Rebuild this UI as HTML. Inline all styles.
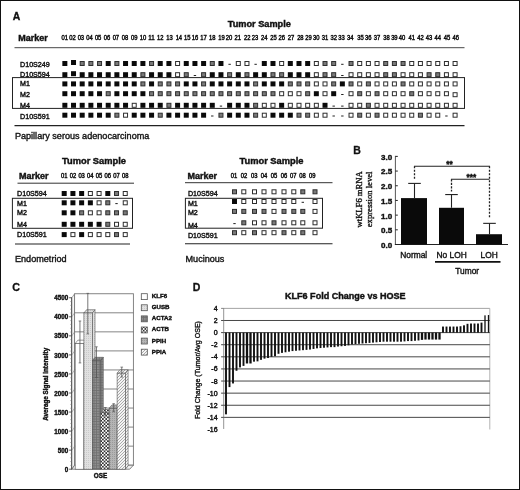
<!DOCTYPE html>
<html lang="en"><head><meta charset="utf-8"><title>KLF6 LOH and expression figure</title>
<style>html,body{margin:0;padding:0;background:#fff;}body{width:520px;height:490px;overflow:hidden;}svg{display:block;font-family:'Liberation Sans', sans-serif;}</style></head><body>
<svg width="520" height="490" viewBox="0 0 520 490">
<defs>
<pattern id="pDots" width="2" height="2" patternUnits="userSpaceOnUse"><rect width="2" height="2" fill="#e0e0e0"/><rect width="1" height="1" fill="#cacaca"/></pattern>
<pattern id="pGrid" width="2.6" height="2.6" patternUnits="userSpaceOnUse"><rect width="2.6" height="2.6" fill="#8e8e8e"/><path d="M0 0.4H2.6M0.4 0V2.6" stroke="#6c6c6c" stroke-width="0.8"/></pattern>
<pattern id="pCheck" width="3.4" height="3.4" patternUnits="userSpaceOnUse"><rect width="3.4" height="3.4" fill="#fff"/><rect width="1.7" height="1.7" fill="#333"/><rect x="1.7" y="1.7" width="1.7" height="1.7" fill="#333"/></pattern>
<pattern id="pMed" width="2" height="2" patternUnits="userSpaceOnUse"><rect width="2" height="2" fill="#b4b4b4"/><rect width="1" height="1" fill="#9a9a9a"/></pattern>
<pattern id="pDiag" width="3" height="3" patternUnits="userSpaceOnUse"><rect width="3" height="3" fill="#f4f4f4"/><path d="M-1 4L4 -1M-1 1L1 -1M2 4L4 2" stroke="#8a8a8a" stroke-width="0.7"/></pattern>
</defs>
<rect x="0" y="0" width="520" height="490" fill="#ffffff"/>
<g id="panelA">
<text x="12.7" y="19.8" font-size="10.4" font-weight="bold" text-anchor="start" fill="#111" stroke="#111" stroke-width="0.35">A</text>
<text x="259.3" y="27.0" font-size="9.2" font-weight="bold" text-anchor="middle" fill="#111" stroke="#111" stroke-width="0.42">Tumor Sample</text>
<text x="18.3" y="41.3" font-size="9" font-weight="bold" text-anchor="start" fill="#111" stroke="#111" stroke-width="0.42">Marker</text>
<line x1="14.5" y1="47.7" x2="464.5" y2="47.7" stroke="#333" stroke-width="0.9"/>
<line x1="14.5" y1="125.6" x2="464.5" y2="125.6" stroke="#222" stroke-width="1.1"/>
<text x="64.85" y="39.6" font-size="6.6" text-anchor="middle" fill="#111" stroke="#111" stroke-width="0.45" textLength="6.5" lengthAdjust="spacingAndGlyphs">01</text>
<text x="72.52" y="39.6" font-size="6.6" text-anchor="middle" fill="#111" stroke="#111" stroke-width="0.45" textLength="6.5" lengthAdjust="spacingAndGlyphs">02</text>
<text x="80.89" y="39.6" font-size="6.6" text-anchor="middle" fill="#111" stroke="#111" stroke-width="0.45" textLength="6.5" lengthAdjust="spacingAndGlyphs">03</text>
<text x="89.47" y="39.6" font-size="6.6" text-anchor="middle" fill="#111" stroke="#111" stroke-width="0.45" textLength="6.5" lengthAdjust="spacingAndGlyphs">04</text>
<text x="98.14" y="39.6" font-size="6.6" text-anchor="middle" fill="#111" stroke="#111" stroke-width="0.45" textLength="6.5" lengthAdjust="spacingAndGlyphs">05</text>
<text x="107.01" y="39.6" font-size="6.6" text-anchor="middle" fill="#111" stroke="#111" stroke-width="0.45" textLength="6.5" lengthAdjust="spacingAndGlyphs">06</text>
<text x="115.88" y="39.6" font-size="6.6" text-anchor="middle" fill="#111" stroke="#111" stroke-width="0.45" textLength="6.5" lengthAdjust="spacingAndGlyphs">07</text>
<text x="124.95" y="39.6" font-size="6.6" text-anchor="middle" fill="#111" stroke="#111" stroke-width="0.45" textLength="6.5" lengthAdjust="spacingAndGlyphs">08</text>
<text x="134.23" y="39.6" font-size="6.6" text-anchor="middle" fill="#111" stroke="#111" stroke-width="0.45" textLength="6.5" lengthAdjust="spacingAndGlyphs">09</text>
<text x="142.90" y="39.6" font-size="6.6" text-anchor="middle" fill="#111" stroke="#111" stroke-width="0.45" textLength="6.5" lengthAdjust="spacingAndGlyphs">10</text>
<text x="151.57" y="39.6" font-size="6.6" text-anchor="middle" fill="#111" stroke="#111" stroke-width="0.45" textLength="6.5" lengthAdjust="spacingAndGlyphs">11</text>
<text x="160.24" y="39.6" font-size="6.6" text-anchor="middle" fill="#111" stroke="#111" stroke-width="0.45" textLength="6.5" lengthAdjust="spacingAndGlyphs">12</text>
<text x="169.51" y="39.6" font-size="6.6" text-anchor="middle" fill="#111" stroke="#111" stroke-width="0.45" textLength="6.5" lengthAdjust="spacingAndGlyphs">13</text>
<text x="178.89" y="39.6" font-size="6.6" text-anchor="middle" fill="#111" stroke="#111" stroke-width="0.45" textLength="6.5" lengthAdjust="spacingAndGlyphs">14</text>
<text x="187.16" y="39.6" font-size="6.6" text-anchor="middle" fill="#111" stroke="#111" stroke-width="0.45" textLength="6.5" lengthAdjust="spacingAndGlyphs">15</text>
<text x="194.93" y="39.6" font-size="6.6" text-anchor="middle" fill="#111" stroke="#111" stroke-width="0.45" textLength="6.5" lengthAdjust="spacingAndGlyphs">16</text>
<text x="203.60" y="39.6" font-size="6.6" text-anchor="middle" fill="#111" stroke="#111" stroke-width="0.45" textLength="6.5" lengthAdjust="spacingAndGlyphs">17</text>
<text x="212.27" y="39.6" font-size="6.6" text-anchor="middle" fill="#111" stroke="#111" stroke-width="0.45" textLength="6.5" lengthAdjust="spacingAndGlyphs">18</text>
<text x="221.55" y="39.6" font-size="6.6" text-anchor="middle" fill="#111" stroke="#111" stroke-width="0.45" textLength="6.5" lengthAdjust="spacingAndGlyphs">19</text>
<text x="229.02" y="39.6" font-size="6.6" text-anchor="middle" fill="#111" stroke="#111" stroke-width="0.45" textLength="6.5" lengthAdjust="spacingAndGlyphs">20</text>
<text x="237.79" y="39.6" font-size="6.6" text-anchor="middle" fill="#111" stroke="#111" stroke-width="0.45" textLength="6.5" lengthAdjust="spacingAndGlyphs">21</text>
<text x="247.16" y="39.6" font-size="6.6" text-anchor="middle" fill="#111" stroke="#111" stroke-width="0.45" textLength="6.5" lengthAdjust="spacingAndGlyphs">22</text>
<text x="255.03" y="39.6" font-size="6.6" text-anchor="middle" fill="#111" stroke="#111" stroke-width="0.45" textLength="6.5" lengthAdjust="spacingAndGlyphs">23</text>
<text x="264.31" y="39.6" font-size="6.6" text-anchor="middle" fill="#111" stroke="#111" stroke-width="0.45" textLength="6.5" lengthAdjust="spacingAndGlyphs">24</text>
<text x="273.48" y="39.6" font-size="6.6" text-anchor="middle" fill="#111" stroke="#111" stroke-width="0.45" textLength="6.5" lengthAdjust="spacingAndGlyphs">25</text>
<text x="281.65" y="39.6" font-size="6.6" text-anchor="middle" fill="#111" stroke="#111" stroke-width="0.45" textLength="6.5" lengthAdjust="spacingAndGlyphs">26</text>
<text x="291.02" y="39.6" font-size="6.6" text-anchor="middle" fill="#111" stroke="#111" stroke-width="0.45" textLength="6.5" lengthAdjust="spacingAndGlyphs">27</text>
<text x="300.39" y="39.6" font-size="6.6" text-anchor="middle" fill="#111" stroke="#111" stroke-width="0.45" textLength="6.5" lengthAdjust="spacingAndGlyphs">28</text>
<text x="308.47" y="39.6" font-size="6.6" text-anchor="middle" fill="#111" stroke="#111" stroke-width="0.45" textLength="6.5" lengthAdjust="spacingAndGlyphs">29</text>
<text x="316.34" y="39.6" font-size="6.6" text-anchor="middle" fill="#111" stroke="#111" stroke-width="0.45" textLength="6.5" lengthAdjust="spacingAndGlyphs">30</text>
<text x="325.01" y="39.6" font-size="6.6" text-anchor="middle" fill="#111" stroke="#111" stroke-width="0.45" textLength="6.5" lengthAdjust="spacingAndGlyphs">31</text>
<text x="333.68" y="39.6" font-size="6.6" text-anchor="middle" fill="#111" stroke="#111" stroke-width="0.45" textLength="6.5" lengthAdjust="spacingAndGlyphs">32</text>
<text x="341.45" y="39.6" font-size="6.6" text-anchor="middle" fill="#111" stroke="#111" stroke-width="0.45" textLength="6.5" lengthAdjust="spacingAndGlyphs">33</text>
<text x="350.23" y="39.6" font-size="6.6" text-anchor="middle" fill="#111" stroke="#111" stroke-width="0.45" textLength="6.5" lengthAdjust="spacingAndGlyphs">34</text>
<text x="360.40" y="39.6" font-size="6.6" text-anchor="middle" fill="#111" stroke="#111" stroke-width="0.45" textLength="6.5" lengthAdjust="spacingAndGlyphs">35</text>
<text x="368.37" y="39.6" font-size="6.6" text-anchor="middle" fill="#111" stroke="#111" stroke-width="0.45" textLength="6.5" lengthAdjust="spacingAndGlyphs">36</text>
<text x="377.04" y="39.6" font-size="6.6" text-anchor="middle" fill="#111" stroke="#111" stroke-width="0.45" textLength="6.5" lengthAdjust="spacingAndGlyphs">37</text>
<text x="386.51" y="39.6" font-size="6.6" text-anchor="middle" fill="#111" stroke="#111" stroke-width="0.45" textLength="6.5" lengthAdjust="spacingAndGlyphs">38</text>
<text x="394.39" y="39.6" font-size="6.6" text-anchor="middle" fill="#111" stroke="#111" stroke-width="0.45" textLength="6.5" lengthAdjust="spacingAndGlyphs">39</text>
<text x="402.06" y="39.6" font-size="6.6" text-anchor="middle" fill="#111" stroke="#111" stroke-width="0.45" textLength="6.5" lengthAdjust="spacingAndGlyphs">40</text>
<text x="411.73" y="39.6" font-size="6.6" text-anchor="middle" fill="#111" stroke="#111" stroke-width="0.45" textLength="6.5" lengthAdjust="spacingAndGlyphs">41</text>
<text x="420.40" y="39.6" font-size="6.6" text-anchor="middle" fill="#111" stroke="#111" stroke-width="0.45" textLength="6.5" lengthAdjust="spacingAndGlyphs">42</text>
<text x="429.07" y="39.6" font-size="6.6" text-anchor="middle" fill="#111" stroke="#111" stroke-width="0.45" textLength="6.5" lengthAdjust="spacingAndGlyphs">43</text>
<text x="437.75" y="39.6" font-size="6.6" text-anchor="middle" fill="#111" stroke="#111" stroke-width="0.45" textLength="6.5" lengthAdjust="spacingAndGlyphs">44</text>
<text x="447.02" y="39.6" font-size="6.6" text-anchor="middle" fill="#111" stroke="#111" stroke-width="0.45" textLength="6.5" lengthAdjust="spacingAndGlyphs">45</text>
<text x="455.69" y="39.6" font-size="6.6" text-anchor="middle" fill="#111" stroke="#111" stroke-width="0.45" textLength="6.5" lengthAdjust="spacingAndGlyphs">46</text>
<text x="20.0" y="66.7" font-size="7.15" text-anchor="start" fill="#111" stroke="#111" stroke-width="0.4">D10S249</text>
<rect x="62.35" y="61.00" width="5.00" height="5.00" fill="#0a0a0a" stroke="none" stroke-width="1"/>
<rect x="71.02" y="60.00" width="5.00" height="5.00" fill="#0a0a0a" stroke="none" stroke-width="1"/>
<rect x="80.19" y="61.50" width="4.00" height="4.00" fill="#7a7a7a" stroke="#2e2e2e" stroke-width="1"/>
<rect x="88.87" y="61.50" width="4.00" height="4.00" fill="#7a7a7a" stroke="#2e2e2e" stroke-width="1"/>
<rect x="97.54" y="61.50" width="4.00" height="4.00" fill="#7a7a7a" stroke="#2e2e2e" stroke-width="1"/>
<rect x="105.71" y="61.00" width="5.00" height="5.00" fill="#0a0a0a" stroke="none" stroke-width="1"/>
<rect x="114.88" y="61.50" width="4.00" height="4.00" fill="#7a7a7a" stroke="#2e2e2e" stroke-width="1"/>
<rect x="123.05" y="61.00" width="5.00" height="5.00" fill="#0a0a0a" stroke="none" stroke-width="1"/>
<rect x="131.73" y="61.00" width="5.00" height="5.00" fill="#0a0a0a" stroke="none" stroke-width="1"/>
<rect x="140.40" y="61.00" width="5.00" height="5.00" fill="#0a0a0a" stroke="none" stroke-width="1"/>
<rect x="149.57" y="61.50" width="4.00" height="4.00" fill="#7a7a7a" stroke="#2e2e2e" stroke-width="1"/>
<rect x="157.74" y="61.00" width="5.00" height="5.00" fill="#0a0a0a" stroke="none" stroke-width="1"/>
<rect x="166.41" y="61.00" width="5.00" height="5.00" fill="#0a0a0a" stroke="none" stroke-width="1"/>
<rect x="175.59" y="61.50" width="4.00" height="4.00" fill="#ffffff" stroke="#2e2e2e" stroke-width="1"/>
<rect x="183.76" y="61.00" width="5.00" height="5.00" fill="#0a0a0a" stroke="none" stroke-width="1"/>
<rect x="192.43" y="61.00" width="5.00" height="5.00" fill="#0a0a0a" stroke="none" stroke-width="1"/>
<rect x="201.10" y="61.00" width="5.00" height="5.00" fill="#0a0a0a" stroke="none" stroke-width="1"/>
<rect x="210.27" y="61.50" width="4.00" height="4.00" fill="#7a7a7a" stroke="#2e2e2e" stroke-width="1"/>
<rect x="218.45" y="61.00" width="5.00" height="5.00" fill="#0a0a0a" stroke="none" stroke-width="1"/>
<rect x="228.42" y="63.80" width="2.40" height="1.00" fill="#222" stroke="none" stroke-width="1"/>
<rect x="236.29" y="61.50" width="4.00" height="4.00" fill="#ffffff" stroke="#2e2e2e" stroke-width="1"/>
<rect x="244.96" y="61.50" width="4.00" height="4.00" fill="#ffffff" stroke="#2e2e2e" stroke-width="1"/>
<rect x="254.43" y="63.80" width="2.40" height="1.00" fill="#222" stroke="none" stroke-width="1"/>
<rect x="261.81" y="61.00" width="5.00" height="5.00" fill="#0a0a0a" stroke="none" stroke-width="1"/>
<rect x="270.48" y="61.00" width="5.00" height="5.00" fill="#0a0a0a" stroke="none" stroke-width="1"/>
<rect x="279.65" y="61.50" width="4.00" height="4.00" fill="#ffffff" stroke="#2e2e2e" stroke-width="1"/>
<rect x="287.82" y="61.00" width="5.00" height="5.00" fill="#0a0a0a" stroke="none" stroke-width="1"/>
<rect x="296.49" y="61.00" width="5.00" height="5.00" fill="#0a0a0a" stroke="none" stroke-width="1"/>
<rect x="305.17" y="61.00" width="5.00" height="5.00" fill="#0a0a0a" stroke="none" stroke-width="1"/>
<rect x="314.34" y="61.50" width="4.00" height="4.00" fill="#ffffff" stroke="#2e2e2e" stroke-width="1"/>
<rect x="323.01" y="61.50" width="4.00" height="4.00" fill="#7a7a7a" stroke="#2e2e2e" stroke-width="1"/>
<rect x="331.68" y="61.50" width="4.00" height="4.00" fill="#7a7a7a" stroke="#2e2e2e" stroke-width="1"/>
<rect x="341.15" y="63.80" width="2.40" height="1.00" fill="#222" stroke="none" stroke-width="1"/>
<rect x="349.03" y="61.50" width="4.00" height="4.00" fill="#7a7a7a" stroke="#2e2e2e" stroke-width="1"/>
<rect x="357.70" y="61.50" width="4.00" height="4.00" fill="#ffffff" stroke="#2e2e2e" stroke-width="1"/>
<rect x="366.37" y="61.50" width="4.00" height="4.00" fill="#ffffff" stroke="#2e2e2e" stroke-width="1"/>
<rect x="375.04" y="61.50" width="4.00" height="4.00" fill="#ffffff" stroke="#2e2e2e" stroke-width="1"/>
<rect x="383.71" y="61.50" width="4.00" height="4.00" fill="#7a7a7a" stroke="#2e2e2e" stroke-width="1"/>
<rect x="392.39" y="61.50" width="4.00" height="4.00" fill="#7a7a7a" stroke="#2e2e2e" stroke-width="1"/>
<rect x="401.06" y="61.50" width="4.00" height="4.00" fill="#7a7a7a" stroke="#2e2e2e" stroke-width="1"/>
<rect x="409.73" y="61.50" width="4.00" height="4.00" fill="#ffffff" stroke="#2e2e2e" stroke-width="1"/>
<rect x="418.40" y="61.50" width="4.00" height="4.00" fill="#ffffff" stroke="#2e2e2e" stroke-width="1"/>
<rect x="427.07" y="61.50" width="4.00" height="4.00" fill="#ffffff" stroke="#2e2e2e" stroke-width="1"/>
<rect x="435.75" y="61.50" width="4.00" height="4.00" fill="#ffffff" stroke="#2e2e2e" stroke-width="1"/>
<rect x="444.42" y="61.50" width="4.00" height="4.00" fill="#ffffff" stroke="#2e2e2e" stroke-width="1"/>
<rect x="453.09" y="61.50" width="4.00" height="4.00" fill="#ffffff" stroke="#2e2e2e" stroke-width="1"/>
<text x="20.0" y="77.3" font-size="7.15" text-anchor="start" fill="#111" stroke="#111" stroke-width="0.4">D10S594</text>
<rect x="62.35" y="72.20" width="5.00" height="5.00" fill="#0a0a0a" stroke="none" stroke-width="1"/>
<rect x="71.02" y="71.20" width="5.00" height="5.00" fill="#0a0a0a" stroke="none" stroke-width="1"/>
<rect x="79.69" y="72.20" width="5.00" height="5.00" fill="#0a0a0a" stroke="none" stroke-width="1"/>
<rect x="88.37" y="72.20" width="5.00" height="5.00" fill="#0a0a0a" stroke="none" stroke-width="1"/>
<rect x="97.04" y="72.20" width="5.00" height="5.00" fill="#0a0a0a" stroke="none" stroke-width="1"/>
<rect x="105.71" y="72.20" width="5.00" height="5.00" fill="#0a0a0a" stroke="none" stroke-width="1"/>
<rect x="114.38" y="72.20" width="5.00" height="5.00" fill="#0a0a0a" stroke="none" stroke-width="1"/>
<rect x="123.05" y="72.20" width="5.00" height="5.00" fill="#0a0a0a" stroke="none" stroke-width="1"/>
<rect x="131.73" y="72.20" width="5.00" height="5.00" fill="#0a0a0a" stroke="none" stroke-width="1"/>
<rect x="140.90" y="72.70" width="4.00" height="4.00" fill="#7a7a7a" stroke="#2e2e2e" stroke-width="1"/>
<rect x="149.07" y="72.20" width="5.00" height="5.00" fill="#0a0a0a" stroke="none" stroke-width="1"/>
<rect x="157.74" y="72.20" width="5.00" height="5.00" fill="#0a0a0a" stroke="none" stroke-width="1"/>
<rect x="166.41" y="72.20" width="5.00" height="5.00" fill="#0a0a0a" stroke="none" stroke-width="1"/>
<rect x="175.59" y="72.70" width="4.00" height="4.00" fill="#ffffff" stroke="#2e2e2e" stroke-width="1"/>
<rect x="184.26" y="72.70" width="4.00" height="4.00" fill="#7a7a7a" stroke="#2e2e2e" stroke-width="1"/>
<rect x="193.73" y="75.00" width="2.40" height="1.00" fill="#222" stroke="none" stroke-width="1"/>
<rect x="201.60" y="72.70" width="4.00" height="4.00" fill="#7a7a7a" stroke="#2e2e2e" stroke-width="1"/>
<rect x="209.77" y="72.20" width="5.00" height="5.00" fill="#0a0a0a" stroke="none" stroke-width="1"/>
<rect x="218.45" y="72.20" width="5.00" height="5.00" fill="#0a0a0a" stroke="none" stroke-width="1"/>
<rect x="227.62" y="72.70" width="4.00" height="4.00" fill="#7a7a7a" stroke="#2e2e2e" stroke-width="1"/>
<rect x="235.79" y="72.20" width="5.00" height="5.00" fill="#0a0a0a" stroke="none" stroke-width="1"/>
<rect x="244.96" y="72.70" width="4.00" height="4.00" fill="#7a7a7a" stroke="#2e2e2e" stroke-width="1"/>
<rect x="253.13" y="72.20" width="5.00" height="5.00" fill="#0a0a0a" stroke="none" stroke-width="1"/>
<rect x="261.81" y="72.20" width="5.00" height="5.00" fill="#0a0a0a" stroke="none" stroke-width="1"/>
<rect x="270.98" y="72.70" width="4.00" height="4.00" fill="#7a7a7a" stroke="#2e2e2e" stroke-width="1"/>
<rect x="279.65" y="72.70" width="4.00" height="4.00" fill="#7a7a7a" stroke="#2e2e2e" stroke-width="1"/>
<rect x="287.82" y="72.20" width="5.00" height="5.00" fill="#0a0a0a" stroke="none" stroke-width="1"/>
<rect x="296.49" y="72.20" width="5.00" height="5.00" fill="#0a0a0a" stroke="none" stroke-width="1"/>
<rect x="305.17" y="72.20" width="5.00" height="5.00" fill="#0a0a0a" stroke="none" stroke-width="1"/>
<rect x="314.34" y="72.70" width="4.00" height="4.00" fill="#ffffff" stroke="#2e2e2e" stroke-width="1"/>
<rect x="323.01" y="72.70" width="4.00" height="4.00" fill="#7a7a7a" stroke="#2e2e2e" stroke-width="1"/>
<rect x="331.68" y="72.70" width="4.00" height="4.00" fill="#7a7a7a" stroke="#2e2e2e" stroke-width="1"/>
<rect x="341.15" y="75.00" width="2.40" height="1.00" fill="#222" stroke="none" stroke-width="1"/>
<rect x="349.03" y="72.70" width="4.00" height="4.00" fill="#ffffff" stroke="#2e2e2e" stroke-width="1"/>
<rect x="357.70" y="72.70" width="4.00" height="4.00" fill="#ffffff" stroke="#2e2e2e" stroke-width="1"/>
<rect x="366.37" y="72.70" width="4.00" height="4.00" fill="#ffffff" stroke="#2e2e2e" stroke-width="1"/>
<rect x="375.04" y="72.70" width="4.00" height="4.00" fill="#ffffff" stroke="#2e2e2e" stroke-width="1"/>
<rect x="383.71" y="72.70" width="4.00" height="4.00" fill="#7a7a7a" stroke="#2e2e2e" stroke-width="1"/>
<rect x="392.39" y="72.70" width="4.00" height="4.00" fill="#7a7a7a" stroke="#2e2e2e" stroke-width="1"/>
<rect x="401.06" y="72.70" width="4.00" height="4.00" fill="#ffffff" stroke="#2e2e2e" stroke-width="1"/>
<rect x="409.73" y="72.70" width="4.00" height="4.00" fill="#ffffff" stroke="#2e2e2e" stroke-width="1"/>
<rect x="418.40" y="72.70" width="4.00" height="4.00" fill="#ffffff" stroke="#2e2e2e" stroke-width="1"/>
<rect x="427.07" y="72.70" width="4.00" height="4.00" fill="#7a7a7a" stroke="#2e2e2e" stroke-width="1"/>
<rect x="435.75" y="72.70" width="4.00" height="4.00" fill="#7a7a7a" stroke="#2e2e2e" stroke-width="1"/>
<rect x="444.42" y="72.70" width="4.00" height="4.00" fill="#ffffff" stroke="#2e2e2e" stroke-width="1"/>
<rect x="453.09" y="72.70" width="4.00" height="4.00" fill="#ffffff" stroke="#2e2e2e" stroke-width="1"/>
<text x="20.0" y="86.2" font-size="7.15" text-anchor="start" fill="#111" stroke="#111" stroke-width="0.4">M1</text>
<rect x="62.35" y="81.40" width="5.00" height="5.00" fill="#0a0a0a" stroke="none" stroke-width="1"/>
<rect x="71.02" y="81.40" width="5.00" height="5.00" fill="#0a0a0a" stroke="none" stroke-width="1"/>
<rect x="79.69" y="81.40" width="5.00" height="5.00" fill="#0a0a0a" stroke="none" stroke-width="1"/>
<rect x="88.37" y="81.40" width="5.00" height="5.00" fill="#0a0a0a" stroke="none" stroke-width="1"/>
<rect x="97.04" y="81.40" width="5.00" height="5.00" fill="#0a0a0a" stroke="none" stroke-width="1"/>
<rect x="105.71" y="81.40" width="5.00" height="5.00" fill="#0a0a0a" stroke="none" stroke-width="1"/>
<rect x="114.38" y="81.40" width="5.00" height="5.00" fill="#0a0a0a" stroke="none" stroke-width="1"/>
<rect x="123.05" y="81.40" width="5.00" height="5.00" fill="#0a0a0a" stroke="none" stroke-width="1"/>
<rect x="131.73" y="81.40" width="5.00" height="5.00" fill="#0a0a0a" stroke="none" stroke-width="1"/>
<rect x="140.90" y="81.90" width="4.00" height="4.00" fill="#7a7a7a" stroke="#2e2e2e" stroke-width="1"/>
<rect x="149.07" y="81.40" width="5.00" height="5.00" fill="#0a0a0a" stroke="none" stroke-width="1"/>
<rect x="158.24" y="81.90" width="4.00" height="4.00" fill="#7a7a7a" stroke="#2e2e2e" stroke-width="1"/>
<rect x="166.91" y="81.90" width="4.00" height="4.00" fill="#7a7a7a" stroke="#2e2e2e" stroke-width="1"/>
<rect x="175.59" y="81.90" width="4.00" height="4.00" fill="#7a7a7a" stroke="#2e2e2e" stroke-width="1"/>
<rect x="183.76" y="81.40" width="5.00" height="5.00" fill="#0a0a0a" stroke="none" stroke-width="1"/>
<rect x="192.43" y="81.40" width="5.00" height="5.00" fill="#0a0a0a" stroke="none" stroke-width="1"/>
<rect x="201.60" y="81.90" width="4.00" height="4.00" fill="#7a7a7a" stroke="#2e2e2e" stroke-width="1"/>
<rect x="209.77" y="81.40" width="5.00" height="5.00" fill="#0a0a0a" stroke="none" stroke-width="1"/>
<rect x="218.45" y="81.40" width="5.00" height="5.00" fill="#0a0a0a" stroke="none" stroke-width="1"/>
<rect x="227.12" y="81.40" width="5.00" height="5.00" fill="#0a0a0a" stroke="none" stroke-width="1"/>
<rect x="235.79" y="81.40" width="5.00" height="5.00" fill="#0a0a0a" stroke="none" stroke-width="1"/>
<rect x="244.46" y="81.40" width="5.00" height="5.00" fill="#0a0a0a" stroke="none" stroke-width="1"/>
<rect x="253.63" y="81.90" width="4.00" height="4.00" fill="#7a7a7a" stroke="#2e2e2e" stroke-width="1"/>
<rect x="261.81" y="81.40" width="5.00" height="5.00" fill="#0a0a0a" stroke="none" stroke-width="1"/>
<rect x="270.48" y="81.40" width="5.00" height="5.00" fill="#0a0a0a" stroke="none" stroke-width="1"/>
<rect x="279.15" y="81.40" width="5.00" height="5.00" fill="#0a0a0a" stroke="none" stroke-width="1"/>
<rect x="288.32" y="81.90" width="4.00" height="4.00" fill="#7a7a7a" stroke="#2e2e2e" stroke-width="1"/>
<rect x="296.99" y="81.90" width="4.00" height="4.00" fill="#7a7a7a" stroke="#2e2e2e" stroke-width="1"/>
<rect x="305.67" y="81.90" width="4.00" height="4.00" fill="#7a7a7a" stroke="#2e2e2e" stroke-width="1"/>
<rect x="314.34" y="81.90" width="4.00" height="4.00" fill="#ffffff" stroke="#2e2e2e" stroke-width="1"/>
<rect x="323.01" y="81.90" width="4.00" height="4.00" fill="#ffffff" stroke="#2e2e2e" stroke-width="1"/>
<rect x="331.68" y="81.90" width="4.00" height="4.00" fill="#7a7a7a" stroke="#2e2e2e" stroke-width="1"/>
<rect x="339.85" y="81.40" width="5.00" height="5.00" fill="#0a0a0a" stroke="none" stroke-width="1"/>
<rect x="349.03" y="81.90" width="4.00" height="4.00" fill="#7a7a7a" stroke="#2e2e2e" stroke-width="1"/>
<rect x="357.70" y="81.90" width="4.00" height="4.00" fill="#ffffff" stroke="#2e2e2e" stroke-width="1"/>
<rect x="366.37" y="81.90" width="4.00" height="4.00" fill="#7a7a7a" stroke="#2e2e2e" stroke-width="1"/>
<rect x="375.04" y="81.90" width="4.00" height="4.00" fill="#ffffff" stroke="#2e2e2e" stroke-width="1"/>
<rect x="383.71" y="81.90" width="4.00" height="4.00" fill="#ffffff" stroke="#2e2e2e" stroke-width="1"/>
<rect x="392.39" y="81.90" width="4.00" height="4.00" fill="#ffffff" stroke="#2e2e2e" stroke-width="1"/>
<rect x="401.06" y="81.90" width="4.00" height="4.00" fill="#7a7a7a" stroke="#2e2e2e" stroke-width="1"/>
<rect x="409.73" y="81.90" width="4.00" height="4.00" fill="#ffffff" stroke="#2e2e2e" stroke-width="1"/>
<rect x="418.40" y="81.90" width="4.00" height="4.00" fill="#ffffff" stroke="#2e2e2e" stroke-width="1"/>
<rect x="427.07" y="81.90" width="4.00" height="4.00" fill="#ffffff" stroke="#2e2e2e" stroke-width="1"/>
<rect x="435.75" y="81.90" width="4.00" height="4.00" fill="#ffffff" stroke="#2e2e2e" stroke-width="1"/>
<rect x="444.42" y="81.90" width="4.00" height="4.00" fill="#ffffff" stroke="#2e2e2e" stroke-width="1"/>
<rect x="453.09" y="81.90" width="4.00" height="4.00" fill="#ffffff" stroke="#2e2e2e" stroke-width="1"/>
<text x="20.0" y="97.3" font-size="7.15" text-anchor="start" fill="#111" stroke="#111" stroke-width="0.4">M2</text>
<rect x="62.35" y="91.20" width="5.00" height="5.00" fill="#0a0a0a" stroke="none" stroke-width="1"/>
<rect x="71.02" y="91.20" width="5.00" height="5.00" fill="#0a0a0a" stroke="none" stroke-width="1"/>
<rect x="79.69" y="91.20" width="5.00" height="5.00" fill="#0a0a0a" stroke="none" stroke-width="1"/>
<rect x="88.37" y="91.20" width="5.00" height="5.00" fill="#0a0a0a" stroke="none" stroke-width="1"/>
<rect x="97.04" y="91.20" width="5.00" height="5.00" fill="#0a0a0a" stroke="none" stroke-width="1"/>
<rect x="106.21" y="91.70" width="4.00" height="4.00" fill="#7a7a7a" stroke="#2e2e2e" stroke-width="1"/>
<rect x="114.38" y="91.20" width="5.00" height="5.00" fill="#0a0a0a" stroke="none" stroke-width="1"/>
<rect x="123.05" y="91.20" width="5.00" height="5.00" fill="#0a0a0a" stroke="none" stroke-width="1"/>
<rect x="131.73" y="91.20" width="5.00" height="5.00" fill="#0a0a0a" stroke="none" stroke-width="1"/>
<rect x="140.40" y="91.20" width="5.00" height="5.00" fill="#0a0a0a" stroke="none" stroke-width="1"/>
<rect x="149.57" y="91.70" width="4.00" height="4.00" fill="#7a7a7a" stroke="#2e2e2e" stroke-width="1"/>
<rect x="158.24" y="91.70" width="4.00" height="4.00" fill="#7a7a7a" stroke="#2e2e2e" stroke-width="1"/>
<rect x="166.91" y="91.70" width="4.00" height="4.00" fill="#7a7a7a" stroke="#2e2e2e" stroke-width="1"/>
<rect x="175.59" y="91.70" width="4.00" height="4.00" fill="#7a7a7a" stroke="#2e2e2e" stroke-width="1"/>
<rect x="184.26" y="91.70" width="4.00" height="4.00" fill="#7a7a7a" stroke="#2e2e2e" stroke-width="1"/>
<rect x="192.93" y="91.70" width="4.00" height="4.00" fill="#7a7a7a" stroke="#2e2e2e" stroke-width="1"/>
<rect x="201.60" y="91.70" width="4.00" height="4.00" fill="#7a7a7a" stroke="#2e2e2e" stroke-width="1"/>
<rect x="210.27" y="91.70" width="4.00" height="4.00" fill="#7a7a7a" stroke="#2e2e2e" stroke-width="1"/>
<rect x="218.95" y="91.70" width="4.00" height="4.00" fill="#7a7a7a" stroke="#2e2e2e" stroke-width="1"/>
<rect x="227.62" y="91.70" width="4.00" height="4.00" fill="#7a7a7a" stroke="#2e2e2e" stroke-width="1"/>
<rect x="236.29" y="91.70" width="4.00" height="4.00" fill="#7a7a7a" stroke="#2e2e2e" stroke-width="1"/>
<rect x="244.96" y="91.70" width="4.00" height="4.00" fill="#7a7a7a" stroke="#2e2e2e" stroke-width="1"/>
<rect x="253.63" y="91.70" width="4.00" height="4.00" fill="#7a7a7a" stroke="#2e2e2e" stroke-width="1"/>
<rect x="262.31" y="91.70" width="4.00" height="4.00" fill="#7a7a7a" stroke="#2e2e2e" stroke-width="1"/>
<rect x="270.98" y="91.70" width="4.00" height="4.00" fill="#7a7a7a" stroke="#2e2e2e" stroke-width="1"/>
<rect x="279.65" y="91.70" width="4.00" height="4.00" fill="#ffffff" stroke="#2e2e2e" stroke-width="1"/>
<rect x="288.32" y="91.70" width="4.00" height="4.00" fill="#ffffff" stroke="#2e2e2e" stroke-width="1"/>
<rect x="296.99" y="91.70" width="4.00" height="4.00" fill="#ffffff" stroke="#2e2e2e" stroke-width="1"/>
<rect x="305.67" y="91.70" width="4.00" height="4.00" fill="#7a7a7a" stroke="#2e2e2e" stroke-width="1"/>
<rect x="313.84" y="91.20" width="5.00" height="5.00" fill="#0a0a0a" stroke="none" stroke-width="1"/>
<rect x="323.01" y="91.70" width="4.00" height="4.00" fill="#ffffff" stroke="#2e2e2e" stroke-width="1"/>
<rect x="331.18" y="91.20" width="5.00" height="5.00" fill="#0a0a0a" stroke="none" stroke-width="1"/>
<rect x="341.15" y="94.00" width="2.40" height="1.00" fill="#222" stroke="none" stroke-width="1"/>
<rect x="349.03" y="91.70" width="4.00" height="4.00" fill="#ffffff" stroke="#2e2e2e" stroke-width="1"/>
<rect x="357.70" y="91.70" width="4.00" height="4.00" fill="#7a7a7a" stroke="#2e2e2e" stroke-width="1"/>
<rect x="366.37" y="91.70" width="4.00" height="4.00" fill="#ffffff" stroke="#2e2e2e" stroke-width="1"/>
<rect x="375.04" y="91.70" width="4.00" height="4.00" fill="#7a7a7a" stroke="#2e2e2e" stroke-width="1"/>
<rect x="383.71" y="91.70" width="4.00" height="4.00" fill="#ffffff" stroke="#2e2e2e" stroke-width="1"/>
<rect x="392.39" y="91.70" width="4.00" height="4.00" fill="#ffffff" stroke="#2e2e2e" stroke-width="1"/>
<rect x="401.06" y="91.70" width="4.00" height="4.00" fill="#ffffff" stroke="#2e2e2e" stroke-width="1"/>
<rect x="409.73" y="91.70" width="4.00" height="4.00" fill="#7a7a7a" stroke="#2e2e2e" stroke-width="1"/>
<rect x="418.40" y="91.70" width="4.00" height="4.00" fill="#ffffff" stroke="#2e2e2e" stroke-width="1"/>
<rect x="427.07" y="91.70" width="4.00" height="4.00" fill="#ffffff" stroke="#2e2e2e" stroke-width="1"/>
<rect x="435.75" y="91.70" width="4.00" height="4.00" fill="#ffffff" stroke="#2e2e2e" stroke-width="1"/>
<rect x="444.42" y="91.70" width="4.00" height="4.00" fill="#ffffff" stroke="#2e2e2e" stroke-width="1"/>
<rect x="453.09" y="92.70" width="4.00" height="4.00" fill="#ffffff" stroke="#2e2e2e" stroke-width="1"/>
<text x="20.0" y="107.6" font-size="7.15" text-anchor="start" fill="#111" stroke="#111" stroke-width="0.4">M4</text>
<rect x="62.35" y="102.80" width="5.00" height="5.00" fill="#0a0a0a" stroke="none" stroke-width="1"/>
<rect x="71.02" y="102.80" width="5.00" height="5.00" fill="#0a0a0a" stroke="none" stroke-width="1"/>
<rect x="79.69" y="102.80" width="5.00" height="5.00" fill="#0a0a0a" stroke="none" stroke-width="1"/>
<rect x="88.37" y="102.80" width="5.00" height="5.00" fill="#0a0a0a" stroke="none" stroke-width="1"/>
<rect x="97.04" y="102.80" width="5.00" height="5.00" fill="#0a0a0a" stroke="none" stroke-width="1"/>
<rect x="105.71" y="102.80" width="5.00" height="5.00" fill="#0a0a0a" stroke="none" stroke-width="1"/>
<rect x="114.38" y="102.80" width="5.00" height="5.00" fill="#0a0a0a" stroke="none" stroke-width="1"/>
<rect x="123.05" y="102.80" width="5.00" height="5.00" fill="#0a0a0a" stroke="none" stroke-width="1"/>
<rect x="132.23" y="103.30" width="4.00" height="4.00" fill="#ffffff" stroke="#2e2e2e" stroke-width="1"/>
<rect x="140.40" y="102.80" width="5.00" height="5.00" fill="#0a0a0a" stroke="none" stroke-width="1"/>
<rect x="149.07" y="102.80" width="5.00" height="5.00" fill="#0a0a0a" stroke="none" stroke-width="1"/>
<rect x="157.74" y="102.80" width="5.00" height="5.00" fill="#0a0a0a" stroke="none" stroke-width="1"/>
<rect x="166.91" y="103.30" width="4.00" height="4.00" fill="#7a7a7a" stroke="#2e2e2e" stroke-width="1"/>
<rect x="175.09" y="102.80" width="5.00" height="5.00" fill="#0a0a0a" stroke="none" stroke-width="1"/>
<rect x="183.76" y="102.80" width="5.00" height="5.00" fill="#0a0a0a" stroke="none" stroke-width="1"/>
<rect x="192.43" y="102.80" width="5.00" height="5.00" fill="#0a0a0a" stroke="none" stroke-width="1"/>
<rect x="201.10" y="102.80" width="5.00" height="5.00" fill="#0a0a0a" stroke="none" stroke-width="1"/>
<rect x="209.77" y="102.80" width="5.00" height="5.00" fill="#0a0a0a" stroke="none" stroke-width="1"/>
<rect x="219.75" y="105.60" width="2.40" height="1.00" fill="#222" stroke="none" stroke-width="1"/>
<rect x="227.12" y="102.80" width="5.00" height="5.00" fill="#0a0a0a" stroke="none" stroke-width="1"/>
<rect x="235.79" y="102.80" width="5.00" height="5.00" fill="#0a0a0a" stroke="none" stroke-width="1"/>
<rect x="244.46" y="102.80" width="5.00" height="5.00" fill="#0a0a0a" stroke="none" stroke-width="1"/>
<rect x="253.63" y="103.30" width="4.00" height="4.00" fill="#7a7a7a" stroke="#2e2e2e" stroke-width="1"/>
<rect x="262.31" y="103.30" width="4.00" height="4.00" fill="#ffffff" stroke="#2e2e2e" stroke-width="1"/>
<rect x="270.98" y="103.30" width="4.00" height="4.00" fill="#ffffff" stroke="#2e2e2e" stroke-width="1"/>
<rect x="279.15" y="102.80" width="5.00" height="5.00" fill="#0a0a0a" stroke="none" stroke-width="1"/>
<rect x="288.32" y="103.30" width="4.00" height="4.00" fill="#ffffff" stroke="#2e2e2e" stroke-width="1"/>
<rect x="296.99" y="103.30" width="4.00" height="4.00" fill="#ffffff" stroke="#2e2e2e" stroke-width="1"/>
<rect x="305.67" y="103.30" width="4.00" height="4.00" fill="#ffffff" stroke="#2e2e2e" stroke-width="1"/>
<rect x="314.34" y="103.30" width="4.00" height="4.00" fill="#ffffff" stroke="#2e2e2e" stroke-width="1"/>
<rect x="322.51" y="102.80" width="5.00" height="5.00" fill="#0a0a0a" stroke="none" stroke-width="1"/>
<rect x="332.48" y="105.60" width="2.40" height="1.00" fill="#222" stroke="none" stroke-width="1"/>
<rect x="341.15" y="105.60" width="2.40" height="1.00" fill="#222" stroke="none" stroke-width="1"/>
<rect x="349.03" y="103.30" width="4.00" height="4.00" fill="#ffffff" stroke="#2e2e2e" stroke-width="1"/>
<rect x="357.70" y="103.30" width="4.00" height="4.00" fill="#ffffff" stroke="#2e2e2e" stroke-width="1"/>
<rect x="366.37" y="103.30" width="4.00" height="4.00" fill="#7a7a7a" stroke="#2e2e2e" stroke-width="1"/>
<rect x="375.04" y="103.30" width="4.00" height="4.00" fill="#ffffff" stroke="#2e2e2e" stroke-width="1"/>
<rect x="383.71" y="103.30" width="4.00" height="4.00" fill="#ffffff" stroke="#2e2e2e" stroke-width="1"/>
<rect x="392.39" y="103.30" width="4.00" height="4.00" fill="#ffffff" stroke="#2e2e2e" stroke-width="1"/>
<rect x="401.06" y="103.30" width="4.00" height="4.00" fill="#ffffff" stroke="#2e2e2e" stroke-width="1"/>
<rect x="409.73" y="103.30" width="4.00" height="4.00" fill="#ffffff" stroke="#2e2e2e" stroke-width="1"/>
<rect x="418.40" y="103.30" width="4.00" height="4.00" fill="#ffffff" stroke="#2e2e2e" stroke-width="1"/>
<rect x="427.07" y="103.30" width="4.00" height="4.00" fill="#ffffff" stroke="#2e2e2e" stroke-width="1"/>
<rect x="435.75" y="103.30" width="4.00" height="4.00" fill="#ffffff" stroke="#2e2e2e" stroke-width="1"/>
<rect x="444.42" y="103.30" width="4.00" height="4.00" fill="#ffffff" stroke="#2e2e2e" stroke-width="1"/>
<rect x="453.09" y="103.30" width="4.00" height="4.00" fill="#ffffff" stroke="#2e2e2e" stroke-width="1"/>
<text x="20.0" y="118.6" font-size="7.15" text-anchor="start" fill="#111" stroke="#111" stroke-width="0.4">D10S591</text>
<rect x="62.35" y="112.70" width="5.00" height="5.00" fill="#0a0a0a" stroke="none" stroke-width="1"/>
<rect x="71.02" y="112.70" width="5.00" height="5.00" fill="#0a0a0a" stroke="none" stroke-width="1"/>
<rect x="79.69" y="112.70" width="5.00" height="5.00" fill="#0a0a0a" stroke="none" stroke-width="1"/>
<rect x="88.37" y="112.70" width="5.00" height="5.00" fill="#0a0a0a" stroke="none" stroke-width="1"/>
<rect x="97.04" y="112.70" width="5.00" height="5.00" fill="#0a0a0a" stroke="none" stroke-width="1"/>
<rect x="105.71" y="112.70" width="5.00" height="5.00" fill="#0a0a0a" stroke="none" stroke-width="1"/>
<rect x="114.88" y="113.20" width="4.00" height="4.00" fill="#7a7a7a" stroke="#2e2e2e" stroke-width="1"/>
<rect x="123.55" y="113.20" width="4.00" height="4.00" fill="#ffffff" stroke="#2e2e2e" stroke-width="1"/>
<rect x="131.73" y="112.70" width="5.00" height="5.00" fill="#0a0a0a" stroke="none" stroke-width="1"/>
<rect x="140.40" y="112.70" width="5.00" height="5.00" fill="#0a0a0a" stroke="none" stroke-width="1"/>
<rect x="149.07" y="112.70" width="5.00" height="5.00" fill="#0a0a0a" stroke="none" stroke-width="1"/>
<rect x="158.24" y="113.20" width="4.00" height="4.00" fill="#7a7a7a" stroke="#2e2e2e" stroke-width="1"/>
<rect x="166.41" y="112.70" width="5.00" height="5.00" fill="#0a0a0a" stroke="none" stroke-width="1"/>
<rect x="175.09" y="112.70" width="5.00" height="5.00" fill="#0a0a0a" stroke="none" stroke-width="1"/>
<rect x="183.76" y="112.70" width="5.00" height="5.00" fill="#0a0a0a" stroke="none" stroke-width="1"/>
<rect x="192.43" y="112.70" width="5.00" height="5.00" fill="#0a0a0a" stroke="none" stroke-width="1"/>
<rect x="201.10" y="112.70" width="5.00" height="5.00" fill="#0a0a0a" stroke="none" stroke-width="1"/>
<rect x="211.07" y="115.50" width="2.40" height="1.00" fill="#222" stroke="none" stroke-width="1"/>
<rect x="218.95" y="113.20" width="4.00" height="4.00" fill="#7a7a7a" stroke="#2e2e2e" stroke-width="1"/>
<rect x="227.12" y="112.70" width="5.00" height="5.00" fill="#0a0a0a" stroke="none" stroke-width="1"/>
<rect x="235.79" y="112.70" width="5.00" height="5.00" fill="#0a0a0a" stroke="none" stroke-width="1"/>
<rect x="244.46" y="112.70" width="5.00" height="5.00" fill="#0a0a0a" stroke="none" stroke-width="1"/>
<rect x="253.63" y="113.20" width="4.00" height="4.00" fill="#7a7a7a" stroke="#2e2e2e" stroke-width="1"/>
<rect x="262.31" y="113.20" width="4.00" height="4.00" fill="#ffffff" stroke="#2e2e2e" stroke-width="1"/>
<rect x="270.48" y="112.70" width="5.00" height="5.00" fill="#0a0a0a" stroke="none" stroke-width="1"/>
<rect x="279.15" y="112.70" width="5.00" height="5.00" fill="#0a0a0a" stroke="none" stroke-width="1"/>
<rect x="287.82" y="112.70" width="5.00" height="5.00" fill="#0a0a0a" stroke="none" stroke-width="1"/>
<rect x="296.99" y="113.20" width="4.00" height="4.00" fill="#7a7a7a" stroke="#2e2e2e" stroke-width="1"/>
<rect x="305.67" y="113.20" width="4.00" height="4.00" fill="#7a7a7a" stroke="#2e2e2e" stroke-width="1"/>
<rect x="314.34" y="113.20" width="4.00" height="4.00" fill="#ffffff" stroke="#2e2e2e" stroke-width="1"/>
<rect x="323.01" y="113.20" width="4.00" height="4.00" fill="#ffffff" stroke="#2e2e2e" stroke-width="1"/>
<rect x="332.48" y="115.50" width="2.40" height="1.00" fill="#222" stroke="none" stroke-width="1"/>
<rect x="341.15" y="115.50" width="2.40" height="1.00" fill="#222" stroke="none" stroke-width="1"/>
<rect x="349.03" y="113.20" width="4.00" height="4.00" fill="#ffffff" stroke="#2e2e2e" stroke-width="1"/>
<rect x="357.70" y="113.20" width="4.00" height="4.00" fill="#7a7a7a" stroke="#2e2e2e" stroke-width="1"/>
<rect x="366.37" y="113.20" width="4.00" height="4.00" fill="#ffffff" stroke="#2e2e2e" stroke-width="1"/>
<rect x="375.04" y="113.20" width="4.00" height="4.00" fill="#7a7a7a" stroke="#2e2e2e" stroke-width="1"/>
<rect x="383.71" y="113.20" width="4.00" height="4.00" fill="#ffffff" stroke="#2e2e2e" stroke-width="1"/>
<rect x="392.39" y="113.20" width="4.00" height="4.00" fill="#ffffff" stroke="#2e2e2e" stroke-width="1"/>
<rect x="401.06" y="113.20" width="4.00" height="4.00" fill="#ffffff" stroke="#2e2e2e" stroke-width="1"/>
<rect x="409.73" y="113.20" width="4.00" height="4.00" fill="#ffffff" stroke="#2e2e2e" stroke-width="1"/>
<rect x="418.40" y="113.20" width="4.00" height="4.00" fill="#7a7a7a" stroke="#2e2e2e" stroke-width="1"/>
<rect x="427.07" y="113.20" width="4.00" height="4.00" fill="#ffffff" stroke="#2e2e2e" stroke-width="1"/>
<rect x="435.75" y="113.20" width="4.00" height="4.00" fill="#ffffff" stroke="#2e2e2e" stroke-width="1"/>
<rect x="445.22" y="115.50" width="2.40" height="1.00" fill="#222" stroke="none" stroke-width="1"/>
<rect x="453.09" y="113.20" width="4.00" height="4.00" fill="#ffffff" stroke="#2e2e2e" stroke-width="1"/>
<rect x="12.50" y="77.60" width="452.00" height="30.80" fill="none" stroke="#222" stroke-width="1"/>
<text x="14.9" y="138.8" font-size="9.1" text-anchor="start" fill="#111" stroke="#111" stroke-width="0.36">Papillary serous adenocarcinoma</text>
</g>
<g id="panelEndo">
<text x="94" y="163.6" font-size="9.3" font-weight="bold" text-anchor="middle" fill="#111" stroke="#111" stroke-width="0.42">Tumor Sample</text>
<text x="19" y="178.7" font-size="9" font-weight="bold" text-anchor="start" fill="#111" stroke="#111" stroke-width="0.42">Marker</text>
<line x1="17.5" y1="183.2" x2="134" y2="183.2" stroke="#333" stroke-width="1.0"/>
<line x1="15" y1="244" x2="130" y2="244" stroke="#222" stroke-width="1.1"/>
<text x="64.20" y="177.6" font-size="6.6" text-anchor="middle" fill="#111" stroke="#111" stroke-width="0.45" textLength="6.5" lengthAdjust="spacingAndGlyphs">01</text>
<text x="72.92" y="177.6" font-size="6.6" text-anchor="middle" fill="#111" stroke="#111" stroke-width="0.45" textLength="6.5" lengthAdjust="spacingAndGlyphs">02</text>
<text x="81.64" y="177.6" font-size="6.6" text-anchor="middle" fill="#111" stroke="#111" stroke-width="0.45" textLength="6.5" lengthAdjust="spacingAndGlyphs">03</text>
<text x="90.36" y="177.6" font-size="6.6" text-anchor="middle" fill="#111" stroke="#111" stroke-width="0.45" textLength="6.5" lengthAdjust="spacingAndGlyphs">04</text>
<text x="99.08" y="177.6" font-size="6.6" text-anchor="middle" fill="#111" stroke="#111" stroke-width="0.45" textLength="6.5" lengthAdjust="spacingAndGlyphs">05</text>
<text x="107.80" y="177.6" font-size="6.6" text-anchor="middle" fill="#111" stroke="#111" stroke-width="0.45" textLength="6.5" lengthAdjust="spacingAndGlyphs">06</text>
<text x="116.52" y="177.6" font-size="6.6" text-anchor="middle" fill="#111" stroke="#111" stroke-width="0.45" textLength="6.5" lengthAdjust="spacingAndGlyphs">07</text>
<text x="125.24" y="177.6" font-size="6.6" text-anchor="middle" fill="#111" stroke="#111" stroke-width="0.45" textLength="6.5" lengthAdjust="spacingAndGlyphs">08</text>
<text x="17.0" y="196.0" font-size="7.15" text-anchor="start" fill="#111" stroke="#111" stroke-width="0.4">D10S594</text>
<rect x="61.70" y="191.00" width="5.00" height="5.00" fill="#0a0a0a" stroke="none" stroke-width="1"/>
<rect x="70.42" y="191.00" width="5.00" height="5.00" fill="#0a0a0a" stroke="none" stroke-width="1"/>
<rect x="79.14" y="191.00" width="5.00" height="5.00" fill="#0a0a0a" stroke="none" stroke-width="1"/>
<rect x="88.36" y="191.50" width="4.00" height="4.00" fill="#ffffff" stroke="#2e2e2e" stroke-width="1"/>
<rect x="97.08" y="191.50" width="4.00" height="4.00" fill="#ffffff" stroke="#2e2e2e" stroke-width="1"/>
<rect x="105.30" y="191.00" width="5.00" height="5.00" fill="#0a0a0a" stroke="none" stroke-width="1"/>
<rect x="114.52" y="191.50" width="4.00" height="4.00" fill="#7a7a7a" stroke="#2e2e2e" stroke-width="1"/>
<rect x="123.24" y="191.50" width="4.00" height="4.00" fill="#ffffff" stroke="#2e2e2e" stroke-width="1"/>
<text x="17.0" y="206.2" font-size="7.15" text-anchor="start" fill="#111" stroke="#111" stroke-width="0.4">M1</text>
<rect x="61.70" y="200.30" width="5.00" height="5.00" fill="#0a0a0a" stroke="none" stroke-width="1"/>
<rect x="70.42" y="200.30" width="5.00" height="5.00" fill="#0a0a0a" stroke="none" stroke-width="1"/>
<rect x="79.14" y="200.30" width="5.00" height="5.00" fill="#0a0a0a" stroke="none" stroke-width="1"/>
<rect x="87.86" y="200.30" width="5.00" height="5.00" fill="#0a0a0a" stroke="none" stroke-width="1"/>
<rect x="97.08" y="200.80" width="4.00" height="4.00" fill="#ffffff" stroke="#2e2e2e" stroke-width="1"/>
<rect x="105.80" y="200.80" width="4.00" height="4.00" fill="#7a7a7a" stroke="#2e2e2e" stroke-width="1"/>
<rect x="115.32" y="203.10" width="2.40" height="1.00" fill="#222" stroke="none" stroke-width="1"/>
<rect x="123.24" y="200.80" width="4.00" height="4.00" fill="#ffffff" stroke="#2e2e2e" stroke-width="1"/>
<text x="17.0" y="215.2" font-size="7.15" text-anchor="start" fill="#111" stroke="#111" stroke-width="0.4">M2</text>
<rect x="61.70" y="210.30" width="5.00" height="5.00" fill="#0a0a0a" stroke="none" stroke-width="1"/>
<rect x="70.42" y="210.30" width="5.00" height="5.00" fill="#0a0a0a" stroke="none" stroke-width="1"/>
<rect x="79.64" y="210.80" width="4.00" height="4.00" fill="#7a7a7a" stroke="#2e2e2e" stroke-width="1"/>
<rect x="88.36" y="210.80" width="4.00" height="4.00" fill="#ffffff" stroke="#2e2e2e" stroke-width="1"/>
<rect x="97.08" y="210.80" width="4.00" height="4.00" fill="#ffffff" stroke="#2e2e2e" stroke-width="1"/>
<rect x="105.80" y="210.80" width="4.00" height="4.00" fill="#7a7a7a" stroke="#2e2e2e" stroke-width="1"/>
<rect x="114.52" y="210.80" width="4.00" height="4.00" fill="#7a7a7a" stroke="#2e2e2e" stroke-width="1"/>
<rect x="123.24" y="210.80" width="4.00" height="4.00" fill="#7a7a7a" stroke="#2e2e2e" stroke-width="1"/>
<text x="17.0" y="227.3" font-size="7.15" text-anchor="start" fill="#111" stroke="#111" stroke-width="0.4">M4</text>
<rect x="61.70" y="221.80" width="5.00" height="5.00" fill="#0a0a0a" stroke="none" stroke-width="1"/>
<rect x="70.42" y="221.80" width="5.00" height="5.00" fill="#0a0a0a" stroke="none" stroke-width="1"/>
<rect x="79.14" y="221.80" width="5.00" height="5.00" fill="#0a0a0a" stroke="none" stroke-width="1"/>
<rect x="87.86" y="221.80" width="5.00" height="5.00" fill="#0a0a0a" stroke="none" stroke-width="1"/>
<rect x="96.58" y="221.80" width="5.00" height="5.00" fill="#0a0a0a" stroke="none" stroke-width="1"/>
<rect x="105.80" y="222.30" width="4.00" height="4.00" fill="#7a7a7a" stroke="#2e2e2e" stroke-width="1"/>
<rect x="114.52" y="222.30" width="4.00" height="4.00" fill="#ffffff" stroke="#2e2e2e" stroke-width="1"/>
<rect x="123.24" y="222.30" width="4.00" height="4.00" fill="#ffffff" stroke="#2e2e2e" stroke-width="1"/>
<text x="17.0" y="237.4" font-size="7.15" text-anchor="start" fill="#111" stroke="#111" stroke-width="0.4">D10S591</text>
<rect x="61.70" y="232.10" width="5.00" height="5.00" fill="#0a0a0a" stroke="none" stroke-width="1"/>
<rect x="70.92" y="232.60" width="4.00" height="4.00" fill="#ffffff" stroke="#2e2e2e" stroke-width="1"/>
<rect x="79.14" y="232.10" width="5.00" height="5.00" fill="#0a0a0a" stroke="none" stroke-width="1"/>
<rect x="88.36" y="232.60" width="4.00" height="4.00" fill="#ffffff" stroke="#2e2e2e" stroke-width="1"/>
<rect x="97.08" y="232.60" width="4.00" height="4.00" fill="#ffffff" stroke="#2e2e2e" stroke-width="1"/>
<rect x="105.80" y="232.60" width="4.00" height="4.00" fill="#ffffff" stroke="#2e2e2e" stroke-width="1"/>
<rect x="114.52" y="232.60" width="4.00" height="4.00" fill="#7a7a7a" stroke="#2e2e2e" stroke-width="1"/>
<rect x="123.24" y="232.60" width="4.00" height="4.00" fill="#ffffff" stroke="#2e2e2e" stroke-width="1"/>
<rect x="12.40" y="198.30" width="120.10" height="30.00" fill="none" stroke="#222" stroke-width="1"/>
<text x="15.0" y="261.5" font-size="9.1" text-anchor="start" fill="#111" stroke="#111" stroke-width="0.36">Endometriod</text>
</g>
<g id="panelMuc">
<text x="271.5" y="163.6" font-size="9.3" font-weight="bold" text-anchor="middle" fill="#111" stroke="#111" stroke-width="0.42">Tumor Sample</text>
<text x="187.5" y="178.7" font-size="9" font-weight="bold" text-anchor="start" fill="#111" stroke="#111" stroke-width="0.42">Marker</text>
<line x1="185" y1="182.7" x2="332.5" y2="182.7" stroke="#333" stroke-width="1.0"/>
<line x1="185" y1="243.8" x2="332.5" y2="243.8" stroke="#222" stroke-width="1.1"/>
<text x="234.00" y="177.6" font-size="6.6" text-anchor="middle" fill="#111" stroke="#111" stroke-width="0.45" textLength="6.5" lengthAdjust="spacingAndGlyphs">01</text>
<text x="244.00" y="177.6" font-size="6.6" text-anchor="middle" fill="#111" stroke="#111" stroke-width="0.45" textLength="6.5" lengthAdjust="spacingAndGlyphs">02</text>
<text x="254.30" y="177.6" font-size="6.6" text-anchor="middle" fill="#111" stroke="#111" stroke-width="0.45" textLength="6.5" lengthAdjust="spacingAndGlyphs">03</text>
<text x="264.00" y="177.6" font-size="6.6" text-anchor="middle" fill="#111" stroke="#111" stroke-width="0.45" textLength="6.5" lengthAdjust="spacingAndGlyphs">04</text>
<text x="274.00" y="177.6" font-size="6.6" text-anchor="middle" fill="#111" stroke="#111" stroke-width="0.45" textLength="6.5" lengthAdjust="spacingAndGlyphs">05</text>
<text x="284.00" y="177.6" font-size="6.6" text-anchor="middle" fill="#111" stroke="#111" stroke-width="0.45" textLength="6.5" lengthAdjust="spacingAndGlyphs">06</text>
<text x="293.30" y="177.6" font-size="6.6" text-anchor="middle" fill="#111" stroke="#111" stroke-width="0.45" textLength="6.5" lengthAdjust="spacingAndGlyphs">07</text>
<text x="302.60" y="177.6" font-size="6.6" text-anchor="middle" fill="#111" stroke="#111" stroke-width="0.45" textLength="6.5" lengthAdjust="spacingAndGlyphs">08</text>
<text x="312.20" y="177.6" font-size="6.6" text-anchor="middle" fill="#111" stroke="#111" stroke-width="0.45" textLength="6.5" lengthAdjust="spacingAndGlyphs">09</text>
<text x="187.9" y="196.0" font-size="7.15" text-anchor="start" fill="#111" stroke="#111" stroke-width="0.4">D10S594</text>
<rect x="232.50" y="189.80" width="4.00" height="4.00" fill="#7a7a7a" stroke="#2e2e2e" stroke-width="1"/>
<rect x="241.80" y="189.80" width="4.00" height="4.00" fill="#ffffff" stroke="#2e2e2e" stroke-width="1"/>
<rect x="252.50" y="189.80" width="4.00" height="4.00" fill="#ffffff" stroke="#2e2e2e" stroke-width="1"/>
<rect x="262.00" y="189.80" width="4.00" height="4.00" fill="#ffffff" stroke="#2e2e2e" stroke-width="1"/>
<rect x="272.00" y="189.80" width="4.00" height="4.00" fill="#ffffff" stroke="#2e2e2e" stroke-width="1"/>
<rect x="282.00" y="189.80" width="4.00" height="4.00" fill="#ffffff" stroke="#2e2e2e" stroke-width="1"/>
<rect x="291.80" y="189.80" width="4.00" height="4.00" fill="#ffffff" stroke="#2e2e2e" stroke-width="1"/>
<rect x="300.80" y="189.80" width="4.00" height="4.00" fill="#7a7a7a" stroke="#2e2e2e" stroke-width="1"/>
<rect x="313.00" y="189.80" width="4.00" height="4.00" fill="#7a7a7a" stroke="#2e2e2e" stroke-width="1"/>
<text x="187.9" y="206.3" font-size="7.15" text-anchor="start" fill="#111" stroke="#111" stroke-width="0.4">M1</text>
<rect x="232.00" y="199.00" width="5.00" height="5.00" fill="#0a0a0a" stroke="none" stroke-width="1"/>
<rect x="241.80" y="199.50" width="4.00" height="4.00" fill="#ffffff" stroke="#2e2e2e" stroke-width="1"/>
<rect x="252.50" y="199.50" width="4.00" height="4.00" fill="#ffffff" stroke="#2e2e2e" stroke-width="1"/>
<rect x="262.00" y="199.50" width="4.00" height="4.00" fill="#ffffff" stroke="#2e2e2e" stroke-width="1"/>
<rect x="272.00" y="199.50" width="4.00" height="4.00" fill="#ffffff" stroke="#2e2e2e" stroke-width="1"/>
<rect x="282.00" y="199.50" width="4.00" height="4.00" fill="#ffffff" stroke="#2e2e2e" stroke-width="1"/>
<rect x="291.80" y="199.50" width="4.00" height="4.00" fill="#ffffff" stroke="#2e2e2e" stroke-width="1"/>
<rect x="301.60" y="201.80" width="2.40" height="1.00" fill="#222" stroke="none" stroke-width="1"/>
<rect x="313.00" y="199.50" width="4.00" height="4.00" fill="#ffffff" stroke="#2e2e2e" stroke-width="1"/>
<text x="187.9" y="215.3" font-size="7.15" text-anchor="start" fill="#111" stroke="#111" stroke-width="0.4">M2</text>
<rect x="232.50" y="209.40" width="4.00" height="4.00" fill="#7a7a7a" stroke="#2e2e2e" stroke-width="1"/>
<rect x="241.80" y="209.40" width="4.00" height="4.00" fill="#7a7a7a" stroke="#2e2e2e" stroke-width="1"/>
<rect x="252.50" y="209.40" width="4.00" height="4.00" fill="#7a7a7a" stroke="#2e2e2e" stroke-width="1"/>
<rect x="262.00" y="209.40" width="4.00" height="4.00" fill="#7a7a7a" stroke="#2e2e2e" stroke-width="1"/>
<rect x="272.00" y="209.40" width="4.00" height="4.00" fill="#ffffff" stroke="#2e2e2e" stroke-width="1"/>
<rect x="282.00" y="209.40" width="4.00" height="4.00" fill="#7a7a7a" stroke="#2e2e2e" stroke-width="1"/>
<rect x="291.80" y="209.40" width="4.00" height="4.00" fill="#7a7a7a" stroke="#2e2e2e" stroke-width="1"/>
<rect x="300.80" y="209.40" width="4.00" height="4.00" fill="#7a7a7a" stroke="#2e2e2e" stroke-width="1"/>
<rect x="313.00" y="209.40" width="4.00" height="4.00" fill="#ffffff" stroke="#2e2e2e" stroke-width="1"/>
<text x="187.9" y="227.6" font-size="7.15" text-anchor="start" fill="#111" stroke="#111" stroke-width="0.4">M4</text>
<rect x="233.30" y="223.10" width="2.40" height="1.00" fill="#222" stroke="none" stroke-width="1"/>
<rect x="241.80" y="220.80" width="4.00" height="4.00" fill="#7a7a7a" stroke="#2e2e2e" stroke-width="1"/>
<rect x="252.50" y="220.80" width="4.00" height="4.00" fill="#ffffff" stroke="#2e2e2e" stroke-width="1"/>
<rect x="262.00" y="220.80" width="4.00" height="4.00" fill="#ffffff" stroke="#2e2e2e" stroke-width="1"/>
<rect x="272.00" y="220.80" width="4.00" height="4.00" fill="#7a7a7a" stroke="#2e2e2e" stroke-width="1"/>
<rect x="282.00" y="220.80" width="4.00" height="4.00" fill="#ffffff" stroke="#2e2e2e" stroke-width="1"/>
<rect x="291.80" y="220.80" width="4.00" height="4.00" fill="#ffffff" stroke="#2e2e2e" stroke-width="1"/>
<rect x="300.80" y="220.80" width="4.00" height="4.00" fill="#ffffff" stroke="#2e2e2e" stroke-width="1"/>
<rect x="313.00" y="220.80" width="4.00" height="4.00" fill="#ffffff" stroke="#2e2e2e" stroke-width="1"/>
<text x="187.9" y="237.7" font-size="7.15" text-anchor="start" fill="#111" stroke="#111" stroke-width="0.4">D10S591</text>
<rect x="232.50" y="230.70" width="4.00" height="4.00" fill="#7a7a7a" stroke="#2e2e2e" stroke-width="1"/>
<rect x="241.80" y="230.70" width="4.00" height="4.00" fill="#ffffff" stroke="#2e2e2e" stroke-width="1"/>
<rect x="252.50" y="230.70" width="4.00" height="4.00" fill="#7a7a7a" stroke="#2e2e2e" stroke-width="1"/>
<rect x="262.00" y="230.70" width="4.00" height="4.00" fill="#ffffff" stroke="#2e2e2e" stroke-width="1"/>
<rect x="272.00" y="230.70" width="4.00" height="4.00" fill="#ffffff" stroke="#2e2e2e" stroke-width="1"/>
<rect x="282.00" y="230.70" width="4.00" height="4.00" fill="#7a7a7a" stroke="#2e2e2e" stroke-width="1"/>
<rect x="291.80" y="230.70" width="4.00" height="4.00" fill="#ffffff" stroke="#2e2e2e" stroke-width="1"/>
<rect x="300.80" y="230.70" width="4.00" height="4.00" fill="#7a7a7a" stroke="#2e2e2e" stroke-width="1"/>
<rect x="313.00" y="230.70" width="4.00" height="4.00" fill="#ffffff" stroke="#2e2e2e" stroke-width="1"/>
<rect x="185.40" y="198.30" width="137.10" height="29.90" fill="none" stroke="#222" stroke-width="1"/>
<text x="185.5" y="261.5" font-size="9.1" text-anchor="start" fill="#111" stroke="#111" stroke-width="0.36">Mucinous</text>
</g>
<g id="panelB">
<text x="353.3" y="153.9" font-size="10.5" font-weight="bold" text-anchor="start" fill="#111" stroke="#111" stroke-width="0.3">B</text>
<line x1="395.4" y1="155.89" x2="395.4" y2="245.0" stroke="#444" stroke-width="0.9"/>
<line x1="394.9" y1="244.5" x2="508" y2="244.5" stroke="#222" stroke-width="1.2"/>
<line x1="395.4" y1="244.5" x2="397.79999999999995" y2="244.5" stroke="#222" stroke-width="1"/>
<text x="392.09999999999997" y="247.9" font-size="8.0" font-weight="bold" text-anchor="end" fill="#111" stroke="#111" stroke-width="0.42">0.0</text>
<line x1="395.4" y1="229.815" x2="397.79999999999995" y2="229.815" stroke="#222" stroke-width="1"/>
<text x="392.09999999999997" y="233.215" font-size="8.0" font-weight="bold" text-anchor="end" fill="#111" stroke="#111" stroke-width="0.42">0.5</text>
<line x1="395.4" y1="215.13" x2="397.79999999999995" y2="215.13" stroke="#222" stroke-width="1"/>
<text x="392.09999999999997" y="218.53" font-size="8.0" font-weight="bold" text-anchor="end" fill="#111" stroke="#111" stroke-width="0.42">1.0</text>
<line x1="395.4" y1="200.445" x2="397.79999999999995" y2="200.445" stroke="#222" stroke-width="1"/>
<text x="392.09999999999997" y="203.845" font-size="8.0" font-weight="bold" text-anchor="end" fill="#111" stroke="#111" stroke-width="0.42">1.5</text>
<line x1="395.4" y1="185.76" x2="397.79999999999995" y2="185.76" stroke="#222" stroke-width="1"/>
<text x="392.09999999999997" y="189.16" font-size="8.0" font-weight="bold" text-anchor="end" fill="#111" stroke="#111" stroke-width="0.42">2.0</text>
<line x1="395.4" y1="171.075" x2="397.79999999999995" y2="171.075" stroke="#222" stroke-width="1"/>
<text x="392.09999999999997" y="174.475" font-size="8.0" font-weight="bold" text-anchor="end" fill="#111" stroke="#111" stroke-width="0.42">2.5</text>
<line x1="395.4" y1="156.39" x2="397.79999999999995" y2="156.39" stroke="#222" stroke-width="1"/>
<text x="392.09999999999997" y="159.79" font-size="8.0" font-weight="bold" text-anchor="end" fill="#111" stroke="#111" stroke-width="0.42">3.0</text>
<rect x="401.00" y="198.10" width="26.00" height="46.40" fill="#0a0a0a" stroke="none" stroke-width="1"/>
<line x1="414.5" y1="183.41039999999998" x2="414.5" y2="198.09539999999998" stroke="#222" stroke-width="1.1"/>
<line x1="408.2" y1="183.41039999999998" x2="420.8" y2="183.41039999999998" stroke="#222" stroke-width="1.1"/>
<rect x="439.00" y="207.79" width="25.00" height="36.71" fill="#0a0a0a" stroke="none" stroke-width="1"/>
<line x1="451.5" y1="194.571" x2="451.5" y2="207.7875" stroke="#222" stroke-width="1.1"/>
<line x1="445.2" y1="194.571" x2="457.8" y2="194.571" stroke="#222" stroke-width="1.1"/>
<rect x="476.00" y="234.22" width="26.00" height="10.28" fill="#0a0a0a" stroke="none" stroke-width="1"/>
<line x1="489.5" y1="223.3536" x2="489.5" y2="234.2205" stroke="#222" stroke-width="1.1"/>
<line x1="483.2" y1="223.3536" x2="495.8" y2="223.3536" stroke="#222" stroke-width="1.1"/>
<line x1="414.0" y1="166.2" x2="490.0" y2="166.2" stroke="#222" stroke-width="1.1"/>
<line x1="414.5" y1="166.2" x2="414.5" y2="180.2104" stroke="#222" stroke-width="1.3" stroke-dasharray="2.1 1.4"/>
<line x1="489.5" y1="166.2" x2="489.5" y2="218.1536" stroke="#222" stroke-width="1.3" stroke-dasharray="2.1 1.4"/>
<line x1="451.0" y1="179.3" x2="489.5" y2="179.3" stroke="#222" stroke-width="1.1"/>
<line x1="451.5" y1="179.3" x2="451.5" y2="191.571" stroke="#222" stroke-width="1.3" stroke-dasharray="2.1 1.4"/>
<text x="449.4" y="166.6" font-size="8.2" font-weight="bold" text-anchor="middle" fill="#111" stroke="#111" stroke-width="0.45">**</text>
<text x="471.4" y="180.0" font-size="8.2" font-weight="bold" text-anchor="middle" fill="#111" stroke="#111" stroke-width="0.45">***</text>
<text x="413.7" y="258" font-size="8.4" text-anchor="middle" fill="#111" stroke="#111" stroke-width="0.36">Normal</text>
<text x="451.7" y="258" font-size="8.4" text-anchor="middle" fill="#111" stroke="#111" stroke-width="0.36">No LOH</text>
<text x="489.2" y="258" font-size="8.4" text-anchor="middle" fill="#111" stroke="#111" stroke-width="0.36">LOH</text>
<line x1="435" y1="261.9" x2="500.5" y2="261.9" stroke="#111" stroke-width="1.8"/>
<text x="467.2" y="273.8" font-size="8.4" text-anchor="middle" fill="#111" stroke="#111" stroke-width="0.36">Tumor</text>
<text transform="translate(362.4 199.4) rotate(-90)" font-family="'Liberation Serif', serif" font-size="8.6" text-anchor="middle" fill="#111" stroke="#111" stroke-width="0.35">wtKLF6 mRNA</text>
<text transform="translate(371.7 199.4) rotate(-90)" font-family="'Liberation Serif', serif" font-size="8.6" text-anchor="middle" fill="#111" stroke="#111" stroke-width="0.35">expression level</text>
</g>
<g id="panelC">
<text x="12.3" y="290.6" font-size="10.7" font-weight="bold" text-anchor="start" fill="#111" stroke="#111" stroke-width="0.3">C</text>
<polygon points="71.9,297.75 74.60000000000001,293.75 74.60000000000001,465.20 71.9,469.2" fill="#f6f6f6" stroke="#777" stroke-width="0.7"/>
<rect x="74.60" y="293.75" width="58.80" height="171.45" fill="#ffffff" stroke="#777" stroke-width="0.9"/>
<line x1="74.60000000000001" y1="446.15" x2="133.4" y2="446.15" stroke="#666" stroke-width="0.8"/>
<line x1="71.9" y1="450.15" x2="74.60000000000001" y2="446.15" stroke="#888" stroke-width="0.6"/>
<line x1="74.60000000000001" y1="427.10" x2="133.4" y2="427.10" stroke="#666" stroke-width="0.8"/>
<line x1="71.9" y1="431.10" x2="74.60000000000001" y2="427.10" stroke="#888" stroke-width="0.6"/>
<line x1="74.60000000000001" y1="408.05" x2="133.4" y2="408.05" stroke="#666" stroke-width="0.8"/>
<line x1="71.9" y1="412.05" x2="74.60000000000001" y2="408.05" stroke="#888" stroke-width="0.6"/>
<line x1="74.60000000000001" y1="389.00" x2="133.4" y2="389.00" stroke="#666" stroke-width="0.8"/>
<line x1="71.9" y1="393.00" x2="74.60000000000001" y2="389.00" stroke="#888" stroke-width="0.6"/>
<line x1="74.60000000000001" y1="369.95" x2="133.4" y2="369.95" stroke="#666" stroke-width="0.8"/>
<line x1="71.9" y1="373.95" x2="74.60000000000001" y2="369.95" stroke="#888" stroke-width="0.6"/>
<line x1="74.60000000000001" y1="350.90" x2="133.4" y2="350.90" stroke="#666" stroke-width="0.8"/>
<line x1="71.9" y1="354.90" x2="74.60000000000001" y2="350.90" stroke="#888" stroke-width="0.6"/>
<line x1="74.60000000000001" y1="331.85" x2="133.4" y2="331.85" stroke="#666" stroke-width="0.8"/>
<line x1="71.9" y1="335.85" x2="74.60000000000001" y2="331.85" stroke="#888" stroke-width="0.6"/>
<line x1="74.60000000000001" y1="312.80" x2="133.4" y2="312.80" stroke="#666" stroke-width="0.8"/>
<line x1="71.9" y1="316.80" x2="74.60000000000001" y2="312.80" stroke="#888" stroke-width="0.6"/>
<polygon points="71.9,469.2 74.60000000000001,465.2 133.4,465.2 129.7,469.2" fill="#efefef" stroke="#666" stroke-width="0.8"/>
<line x1="71.5" y1="297.25" x2="71.5" y2="469.7" stroke="#555" stroke-width="0.9"/>
<line x1="70.30000000000001" y1="465.39" x2="71.5" y2="465.39" stroke="#777" stroke-width="0.6"/>
<line x1="70.30000000000001" y1="461.58" x2="71.5" y2="461.58" stroke="#777" stroke-width="0.6"/>
<line x1="70.30000000000001" y1="457.77" x2="71.5" y2="457.77" stroke="#777" stroke-width="0.6"/>
<line x1="70.30000000000001" y1="453.96" x2="71.5" y2="453.96" stroke="#777" stroke-width="0.6"/>
<line x1="70.30000000000001" y1="446.34" x2="71.5" y2="446.34" stroke="#777" stroke-width="0.6"/>
<line x1="70.30000000000001" y1="442.53" x2="71.5" y2="442.53" stroke="#777" stroke-width="0.6"/>
<line x1="70.30000000000001" y1="438.72" x2="71.5" y2="438.72" stroke="#777" stroke-width="0.6"/>
<line x1="70.30000000000001" y1="434.91" x2="71.5" y2="434.91" stroke="#777" stroke-width="0.6"/>
<line x1="70.30000000000001" y1="427.29" x2="71.5" y2="427.29" stroke="#777" stroke-width="0.6"/>
<line x1="70.30000000000001" y1="423.48" x2="71.5" y2="423.48" stroke="#777" stroke-width="0.6"/>
<line x1="70.30000000000001" y1="419.67" x2="71.5" y2="419.67" stroke="#777" stroke-width="0.6"/>
<line x1="70.30000000000001" y1="415.86" x2="71.5" y2="415.86" stroke="#777" stroke-width="0.6"/>
<line x1="70.30000000000001" y1="408.24" x2="71.5" y2="408.24" stroke="#777" stroke-width="0.6"/>
<line x1="70.30000000000001" y1="404.43" x2="71.5" y2="404.43" stroke="#777" stroke-width="0.6"/>
<line x1="70.30000000000001" y1="400.62" x2="71.5" y2="400.62" stroke="#777" stroke-width="0.6"/>
<line x1="70.30000000000001" y1="396.81" x2="71.5" y2="396.81" stroke="#777" stroke-width="0.6"/>
<line x1="70.30000000000001" y1="389.19" x2="71.5" y2="389.19" stroke="#777" stroke-width="0.6"/>
<line x1="70.30000000000001" y1="385.38" x2="71.5" y2="385.38" stroke="#777" stroke-width="0.6"/>
<line x1="70.30000000000001" y1="381.57" x2="71.5" y2="381.57" stroke="#777" stroke-width="0.6"/>
<line x1="70.30000000000001" y1="377.76" x2="71.5" y2="377.76" stroke="#777" stroke-width="0.6"/>
<line x1="70.30000000000001" y1="370.14" x2="71.5" y2="370.14" stroke="#777" stroke-width="0.6"/>
<line x1="70.30000000000001" y1="366.33" x2="71.5" y2="366.33" stroke="#777" stroke-width="0.6"/>
<line x1="70.30000000000001" y1="362.52" x2="71.5" y2="362.52" stroke="#777" stroke-width="0.6"/>
<line x1="70.30000000000001" y1="358.71" x2="71.5" y2="358.71" stroke="#777" stroke-width="0.6"/>
<line x1="70.30000000000001" y1="351.09" x2="71.5" y2="351.09" stroke="#777" stroke-width="0.6"/>
<line x1="70.30000000000001" y1="347.28" x2="71.5" y2="347.28" stroke="#777" stroke-width="0.6"/>
<line x1="70.30000000000001" y1="343.47" x2="71.5" y2="343.47" stroke="#777" stroke-width="0.6"/>
<line x1="70.30000000000001" y1="339.66" x2="71.5" y2="339.66" stroke="#777" stroke-width="0.6"/>
<line x1="70.30000000000001" y1="332.04" x2="71.5" y2="332.04" stroke="#777" stroke-width="0.6"/>
<line x1="70.30000000000001" y1="328.23" x2="71.5" y2="328.23" stroke="#777" stroke-width="0.6"/>
<line x1="70.30000000000001" y1="324.42" x2="71.5" y2="324.42" stroke="#777" stroke-width="0.6"/>
<line x1="70.30000000000001" y1="320.61" x2="71.5" y2="320.61" stroke="#777" stroke-width="0.6"/>
<line x1="70.30000000000001" y1="312.99" x2="71.5" y2="312.99" stroke="#777" stroke-width="0.6"/>
<line x1="70.30000000000001" y1="309.18" x2="71.5" y2="309.18" stroke="#777" stroke-width="0.6"/>
<line x1="70.30000000000001" y1="305.37" x2="71.5" y2="305.37" stroke="#777" stroke-width="0.6"/>
<line x1="70.30000000000001" y1="301.56" x2="71.5" y2="301.56" stroke="#777" stroke-width="0.6"/>
<line x1="69.10000000000001" y1="469.20" x2="71.5" y2="469.20" stroke="#333" stroke-width="0.8"/>
<text x="68.2" y="471.80" font-size="6.3" font-weight="bold" text-anchor="end" fill="#111" stroke="#111" stroke-width="0.38">0</text>
<line x1="69.10000000000001" y1="450.15" x2="71.5" y2="450.15" stroke="#333" stroke-width="0.8"/>
<text x="68.2" y="452.75" font-size="6.3" font-weight="bold" text-anchor="end" fill="#111" stroke="#111" stroke-width="0.38">500</text>
<line x1="69.10000000000001" y1="431.10" x2="71.5" y2="431.10" stroke="#333" stroke-width="0.8"/>
<text x="68.2" y="433.70" font-size="6.3" font-weight="bold" text-anchor="end" fill="#111" stroke="#111" stroke-width="0.38">1000</text>
<line x1="69.10000000000001" y1="412.05" x2="71.5" y2="412.05" stroke="#333" stroke-width="0.8"/>
<text x="68.2" y="414.65" font-size="6.3" font-weight="bold" text-anchor="end" fill="#111" stroke="#111" stroke-width="0.38">1500</text>
<line x1="69.10000000000001" y1="393.00" x2="71.5" y2="393.00" stroke="#333" stroke-width="0.8"/>
<text x="68.2" y="395.60" font-size="6.3" font-weight="bold" text-anchor="end" fill="#111" stroke="#111" stroke-width="0.38">2000</text>
<line x1="69.10000000000001" y1="373.95" x2="71.5" y2="373.95" stroke="#333" stroke-width="0.8"/>
<text x="68.2" y="376.55" font-size="6.3" font-weight="bold" text-anchor="end" fill="#111" stroke="#111" stroke-width="0.38">2500</text>
<line x1="69.10000000000001" y1="354.90" x2="71.5" y2="354.90" stroke="#333" stroke-width="0.8"/>
<text x="68.2" y="357.50" font-size="6.3" font-weight="bold" text-anchor="end" fill="#111" stroke="#111" stroke-width="0.38">3000</text>
<line x1="69.10000000000001" y1="335.85" x2="71.5" y2="335.85" stroke="#333" stroke-width="0.8"/>
<text x="68.2" y="338.45" font-size="6.3" font-weight="bold" text-anchor="end" fill="#111" stroke="#111" stroke-width="0.38">3500</text>
<line x1="69.10000000000001" y1="316.80" x2="71.5" y2="316.80" stroke="#333" stroke-width="0.8"/>
<text x="68.2" y="319.40" font-size="6.3" font-weight="bold" text-anchor="end" fill="#111" stroke="#111" stroke-width="0.38">4000</text>
<line x1="69.10000000000001" y1="297.75" x2="71.5" y2="297.75" stroke="#333" stroke-width="0.8"/>
<text x="68.2" y="300.35" font-size="6.3" font-weight="bold" text-anchor="end" fill="#111" stroke="#111" stroke-width="0.38">4500</text>
<polygon points="83.90,343.47 86.60,340.17 86.60,465.90 83.90,469.20" fill="#ffffff" stroke="#555" stroke-width="0.6"/>
<polygon points="75.20,343.47 77.90,340.17 86.60,340.17 83.90,343.47" fill="#ffffff" stroke="#555" stroke-width="0.6"/>
<rect x="75.20" y="343.47" width="8.70" height="125.73" fill="#ffffff" stroke="#555" stroke-width="0.6"/>
<polygon points="92.30,312.99 95.00,309.69 95.00,465.90 92.30,469.20" fill="url(#pDots)" stroke="#555" stroke-width="0.6"/>
<polygon points="83.90,312.99 86.60,309.69 95.00,309.69 92.30,312.99" fill="url(#pDots)" stroke="#555" stroke-width="0.6"/>
<rect x="83.90" y="312.99" width="8.40" height="156.21" fill="url(#pDots)" stroke="#555" stroke-width="0.6"/>
<polygon points="100.60,360.62 103.30,357.31 103.30,465.90 100.60,469.20" fill="url(#pGrid)" stroke="#555" stroke-width="0.6"/>
<polygon points="92.30,360.62 95.00,357.31 103.30,357.31 100.60,360.62" fill="url(#pGrid)" stroke="#555" stroke-width="0.6"/>
<rect x="92.30" y="360.62" width="8.30" height="108.58" fill="url(#pGrid)" stroke="#555" stroke-width="0.6"/>
<polygon points="109.20,412.81 111.90,409.51 111.90,465.90 109.20,469.20" fill="url(#pCheck)" stroke="#555" stroke-width="0.6"/>
<polygon points="100.60,412.81 103.30,409.51 111.90,409.51 109.20,412.81" fill="url(#pCheck)" stroke="#555" stroke-width="0.6"/>
<rect x="100.60" y="412.81" width="8.60" height="56.39" fill="url(#pCheck)" stroke="#555" stroke-width="0.6"/>
<polygon points="117.10,408.24 119.80,404.94 119.80,465.90 117.10,469.20" fill="url(#pMed)" stroke="#555" stroke-width="0.6"/>
<polygon points="109.20,408.24 111.90,404.94 119.80,404.94 117.10,408.24" fill="url(#pMed)" stroke="#555" stroke-width="0.6"/>
<rect x="109.20" y="408.24" width="7.90" height="60.96" fill="url(#pMed)" stroke="#555" stroke-width="0.6"/>
<polygon points="125.40,373.19 128.10,369.89 128.10,465.90 125.40,469.20" fill="url(#pDiag)" stroke="#555" stroke-width="0.6"/>
<polygon points="117.10,373.19 119.80,369.89 128.10,369.89 125.40,373.19" fill="url(#pDiag)" stroke="#555" stroke-width="0.6"/>
<rect x="117.10" y="373.19" width="8.30" height="96.01" fill="url(#pDiag)" stroke="#555" stroke-width="0.6"/>
<line x1="79.95" y1="321.01" x2="79.95" y2="362.92" stroke="#555" stroke-width="0.8"/>
<line x1="78.65" y1="321.01" x2="81.25" y2="321.01" stroke="#555" stroke-width="0.7"/>
<line x1="78.65" y1="362.92" x2="81.25" y2="362.92" stroke="#555" stroke-width="0.7"/>
<line x1="87.80" y1="293.35" x2="87.80" y2="333.85" stroke="#555" stroke-width="0.8"/>
<line x1="86.50" y1="293.35" x2="89.10" y2="293.35" stroke="#555" stroke-width="0.7"/>
<line x1="86.50" y1="333.85" x2="89.10" y2="333.85" stroke="#555" stroke-width="0.7"/>
<line x1="96.45" y1="346.81" x2="96.45" y2="377.40" stroke="#555" stroke-width="0.8"/>
<line x1="95.15" y1="346.81" x2="97.75" y2="346.81" stroke="#555" stroke-width="0.7"/>
<line x1="95.15" y1="377.40" x2="97.75" y2="377.40" stroke="#555" stroke-width="0.7"/>
<line x1="105.40" y1="407.50" x2="105.40" y2="415.12" stroke="#555" stroke-width="0.8"/>
<line x1="104.10" y1="407.50" x2="106.70" y2="407.50" stroke="#555" stroke-width="0.7"/>
<line x1="104.10" y1="415.12" x2="106.70" y2="415.12" stroke="#555" stroke-width="0.7"/>
<line x1="113.65" y1="403.69" x2="113.65" y2="411.69" stroke="#555" stroke-width="0.8"/>
<line x1="112.35" y1="403.69" x2="114.95" y2="403.69" stroke="#555" stroke-width="0.7"/>
<line x1="112.35" y1="411.69" x2="114.95" y2="411.69" stroke="#555" stroke-width="0.7"/>
<line x1="121.75" y1="367.12" x2="121.75" y2="377.02" stroke="#555" stroke-width="0.8"/>
<line x1="120.45" y1="367.12" x2="123.05" y2="367.12" stroke="#555" stroke-width="0.7"/>
<line x1="120.45" y1="377.02" x2="123.05" y2="377.02" stroke="#555" stroke-width="0.7"/>
<text x="100.5" y="478.2" font-size="6.3" font-weight="bold" text-anchor="middle" fill="#111" stroke="#111" stroke-width="0.42">OSE</text>
<text transform="translate(48.2 384.3) rotate(-90)" font-size="6.3" font-weight="bold" text-anchor="middle" fill="#111" stroke="#111" stroke-width="0.4">Average Signal Intensity</text>
<rect x="141.30" y="293.70" width="6.00" height="5.90" fill="#ffffff" stroke="#555" stroke-width="0.8"/>
<text x="151.8" y="297.95" font-size="6.15" font-weight="bold" text-anchor="start" fill="#111" stroke="#111" stroke-width="0.4">KLF6</text>
<rect x="141.30" y="304.80" width="6.00" height="5.90" fill="url(#pDots)" stroke="#555" stroke-width="0.8"/>
<text x="151.8" y="309.13" font-size="6.15" font-weight="bold" text-anchor="start" fill="#111" stroke="#111" stroke-width="0.4">GUSB</text>
<rect x="141.30" y="315.90" width="6.00" height="5.90" fill="url(#pGrid)" stroke="#555" stroke-width="0.8"/>
<text x="151.8" y="320.31" font-size="6.15" font-weight="bold" text-anchor="start" fill="#111" stroke="#111" stroke-width="0.4">ACTA2</text>
<rect x="141.30" y="327.00" width="6.00" height="5.90" fill="url(#pCheck)" stroke="#555" stroke-width="0.8"/>
<text x="151.8" y="331.49" font-size="6.15" font-weight="bold" text-anchor="start" fill="#111" stroke="#111" stroke-width="0.4">ACTB</text>
<rect x="141.30" y="338.10" width="6.00" height="5.90" fill="url(#pMed)" stroke="#555" stroke-width="0.8"/>
<text x="151.8" y="342.67" font-size="6.15" font-weight="bold" text-anchor="start" fill="#111" stroke="#111" stroke-width="0.4">PPIH</text>
<rect x="141.30" y="349.20" width="6.00" height="5.90" fill="url(#pDiag)" stroke="#555" stroke-width="0.8"/>
<text x="151.8" y="353.85" font-size="6.15" font-weight="bold" text-anchor="start" fill="#111" stroke="#111" stroke-width="0.4">PPIA</text>
</g>
<g id="panelD">
<text x="192.7" y="290.6" font-size="10.5" font-weight="bold" text-anchor="start" fill="#111" stroke="#111" stroke-width="0.3">D</text>
<text x="345.3" y="299.4" font-size="9.05" font-weight="bold" text-anchor="middle" fill="#111" stroke="#111" stroke-width="0.42">KLF6 Fold Change vs HOSE</text>
<line x1="223.7" y1="308.38" x2="489.8" y2="308.38" stroke="#999" stroke-width="0.9"/>
<line x1="489.8" y1="308.38" x2="489.8" y2="429.48" stroke="#aaa" stroke-width="0.9"/>
<line x1="223.7" y1="320.49" x2="489.8" y2="320.49" stroke="#333" stroke-width="0.9"/>
<line x1="223.7" y1="332.60" x2="489.8" y2="332.60" stroke="#333" stroke-width="0.9"/>
<line x1="223.7" y1="344.71" x2="489.8" y2="344.71" stroke="#333" stroke-width="0.9"/>
<line x1="223.7" y1="356.82" x2="489.8" y2="356.82" stroke="#333" stroke-width="0.9"/>
<line x1="223.7" y1="368.93" x2="489.8" y2="368.93" stroke="#333" stroke-width="0.9"/>
<line x1="223.7" y1="381.04" x2="489.8" y2="381.04" stroke="#333" stroke-width="0.9"/>
<line x1="223.7" y1="393.15" x2="489.8" y2="393.15" stroke="#333" stroke-width="0.9"/>
<line x1="223.7" y1="405.26" x2="489.8" y2="405.26" stroke="#333" stroke-width="0.9"/>
<line x1="223.7" y1="417.37" x2="489.8" y2="417.37" stroke="#333" stroke-width="0.9"/>
<line x1="223.7" y1="308.08" x2="223.7" y2="428.98" stroke="#888" stroke-width="0.9"/>
<line x1="221.1" y1="308.38" x2="223.7" y2="308.38" stroke="#777" stroke-width="0.9"/>
<text x="217.6" y="310.88" font-size="7.0" text-anchor="end" fill="#111" stroke="#111" stroke-width="0.42">4</text>
<line x1="221.1" y1="320.49" x2="223.7" y2="320.49" stroke="#333" stroke-width="0.9"/>
<text x="217.6" y="322.99" font-size="7.0" text-anchor="end" fill="#111" stroke="#111" stroke-width="0.42">2</text>
<line x1="221.1" y1="332.60" x2="223.7" y2="332.60" stroke="#333" stroke-width="0.9"/>
<text x="217.6" y="335.10" font-size="7.0" text-anchor="end" fill="#111" stroke="#111" stroke-width="0.42">0</text>
<line x1="221.1" y1="344.71" x2="223.7" y2="344.71" stroke="#333" stroke-width="0.9"/>
<text x="217.6" y="347.21" font-size="7.0" text-anchor="end" fill="#111" stroke="#111" stroke-width="0.42">-2</text>
<line x1="221.1" y1="356.82" x2="223.7" y2="356.82" stroke="#333" stroke-width="0.9"/>
<text x="217.6" y="359.32" font-size="7.0" text-anchor="end" fill="#111" stroke="#111" stroke-width="0.42">-4</text>
<line x1="221.1" y1="368.93" x2="223.7" y2="368.93" stroke="#333" stroke-width="0.9"/>
<text x="217.6" y="371.43" font-size="7.0" text-anchor="end" fill="#111" stroke="#111" stroke-width="0.42">-6</text>
<line x1="221.1" y1="381.04" x2="223.7" y2="381.04" stroke="#333" stroke-width="0.9"/>
<text x="217.6" y="383.54" font-size="7.0" text-anchor="end" fill="#111" stroke="#111" stroke-width="0.42">-8</text>
<line x1="221.1" y1="393.15" x2="223.7" y2="393.15" stroke="#333" stroke-width="0.9"/>
<text x="217.6" y="395.65" font-size="7.0" text-anchor="end" fill="#111" stroke="#111" stroke-width="0.42">-10</text>
<line x1="221.1" y1="405.26" x2="223.7" y2="405.26" stroke="#333" stroke-width="0.9"/>
<text x="217.6" y="407.76" font-size="7.0" text-anchor="end" fill="#111" stroke="#111" stroke-width="0.42">-12</text>
<line x1="221.1" y1="417.37" x2="223.7" y2="417.37" stroke="#333" stroke-width="0.9"/>
<text x="217.6" y="419.87" font-size="7.0" text-anchor="end" fill="#111" stroke="#111" stroke-width="0.42">-14</text>
<text x="217.6" y="431.98" font-size="7.0" text-anchor="end" fill="#111" stroke="#111" stroke-width="0.42">-16</text>
<rect x="225.05" y="332.60" width="1.90" height="81.74" fill="#111" stroke="none" stroke-width="1"/>
<rect x="228.55" y="332.60" width="1.90" height="54.50" fill="#111" stroke="none" stroke-width="1"/>
<rect x="232.05" y="332.60" width="1.90" height="50.86" fill="#111" stroke="none" stroke-width="1"/>
<rect x="235.55" y="332.60" width="1.90" height="38.15" fill="#111" stroke="none" stroke-width="1"/>
<rect x="239.05" y="332.60" width="1.90" height="34.82" fill="#111" stroke="none" stroke-width="1"/>
<rect x="242.55" y="332.60" width="1.90" height="33.30" fill="#111" stroke="none" stroke-width="1"/>
<rect x="245.85" y="332.60" width="2.30" height="30.88" fill="#111" stroke="none" stroke-width="1"/>
<rect x="249.35" y="332.60" width="2.30" height="30.88" fill="#111" stroke="none" stroke-width="1"/>
<rect x="253.05" y="332.60" width="1.90" height="29.06" fill="#111" stroke="none" stroke-width="1"/>
<rect x="256.55" y="332.60" width="1.90" height="28.76" fill="#111" stroke="none" stroke-width="1"/>
<rect x="260.05" y="332.60" width="1.90" height="27.25" fill="#111" stroke="none" stroke-width="1"/>
<rect x="263.55" y="332.60" width="1.90" height="26.04" fill="#111" stroke="none" stroke-width="1"/>
<rect x="267.05" y="332.60" width="1.90" height="25.43" fill="#111" stroke="none" stroke-width="1"/>
<rect x="270.55" y="332.60" width="1.90" height="24.22" fill="#111" stroke="none" stroke-width="1"/>
<rect x="274.05" y="332.60" width="1.90" height="23.61" fill="#111" stroke="none" stroke-width="1"/>
<rect x="277.55" y="332.60" width="1.90" height="21.19" fill="#111" stroke="none" stroke-width="1"/>
<rect x="281.05" y="332.60" width="1.90" height="20.28" fill="#111" stroke="none" stroke-width="1"/>
<rect x="284.55" y="332.60" width="1.90" height="19.68" fill="#111" stroke="none" stroke-width="1"/>
<rect x="288.05" y="332.60" width="1.90" height="19.07" fill="#111" stroke="none" stroke-width="1"/>
<rect x="291.55" y="332.60" width="1.90" height="18.47" fill="#111" stroke="none" stroke-width="1"/>
<rect x="295.05" y="332.60" width="1.90" height="18.17" fill="#111" stroke="none" stroke-width="1"/>
<rect x="298.55" y="332.60" width="1.90" height="17.86" fill="#111" stroke="none" stroke-width="1"/>
<rect x="302.05" y="332.60" width="1.90" height="17.56" fill="#111" stroke="none" stroke-width="1"/>
<rect x="305.55" y="332.60" width="1.90" height="17.26" fill="#111" stroke="none" stroke-width="1"/>
<rect x="309.05" y="332.60" width="1.90" height="16.95" fill="#111" stroke="none" stroke-width="1"/>
<rect x="312.55" y="332.60" width="1.90" height="16.35" fill="#111" stroke="none" stroke-width="1"/>
<rect x="316.05" y="332.60" width="1.90" height="15.74" fill="#111" stroke="none" stroke-width="1"/>
<rect x="319.55" y="332.60" width="1.90" height="15.44" fill="#111" stroke="none" stroke-width="1"/>
<rect x="323.05" y="332.60" width="1.90" height="15.14" fill="#111" stroke="none" stroke-width="1"/>
<rect x="326.55" y="332.60" width="1.90" height="14.83" fill="#111" stroke="none" stroke-width="1"/>
<rect x="330.05" y="332.60" width="1.90" height="14.53" fill="#111" stroke="none" stroke-width="1"/>
<rect x="333.55" y="332.60" width="1.90" height="14.53" fill="#111" stroke="none" stroke-width="1"/>
<rect x="337.05" y="332.60" width="1.90" height="13.93" fill="#111" stroke="none" stroke-width="1"/>
<rect x="340.55" y="332.60" width="1.90" height="13.62" fill="#111" stroke="none" stroke-width="1"/>
<rect x="344.05" y="332.60" width="1.90" height="13.32" fill="#111" stroke="none" stroke-width="1"/>
<rect x="347.55" y="332.60" width="1.90" height="12.72" fill="#111" stroke="none" stroke-width="1"/>
<rect x="351.05" y="332.60" width="1.90" height="11.81" fill="#111" stroke="none" stroke-width="1"/>
<rect x="354.55" y="332.60" width="1.90" height="11.50" fill="#111" stroke="none" stroke-width="1"/>
<rect x="358.05" y="332.60" width="1.90" height="11.20" fill="#111" stroke="none" stroke-width="1"/>
<rect x="361.55" y="332.60" width="1.90" height="10.90" fill="#111" stroke="none" stroke-width="1"/>
<rect x="365.05" y="332.60" width="1.90" height="10.60" fill="#111" stroke="none" stroke-width="1"/>
<rect x="368.55" y="332.60" width="1.90" height="10.29" fill="#111" stroke="none" stroke-width="1"/>
<rect x="372.05" y="332.60" width="1.90" height="9.99" fill="#111" stroke="none" stroke-width="1"/>
<rect x="375.55" y="332.60" width="1.90" height="9.69" fill="#111" stroke="none" stroke-width="1"/>
<rect x="379.05" y="332.60" width="1.90" height="9.39" fill="#111" stroke="none" stroke-width="1"/>
<rect x="382.55" y="332.60" width="1.90" height="9.08" fill="#111" stroke="none" stroke-width="1"/>
<rect x="386.05" y="332.60" width="1.90" height="9.08" fill="#111" stroke="none" stroke-width="1"/>
<rect x="389.55" y="332.60" width="1.90" height="9.08" fill="#111" stroke="none" stroke-width="1"/>
<rect x="393.05" y="332.60" width="1.90" height="9.08" fill="#111" stroke="none" stroke-width="1"/>
<rect x="396.55" y="332.60" width="1.90" height="9.08" fill="#111" stroke="none" stroke-width="1"/>
<rect x="400.05" y="332.60" width="1.90" height="9.08" fill="#111" stroke="none" stroke-width="1"/>
<rect x="403.55" y="332.60" width="1.90" height="8.78" fill="#111" stroke="none" stroke-width="1"/>
<rect x="407.05" y="332.60" width="1.90" height="8.48" fill="#111" stroke="none" stroke-width="1"/>
<rect x="410.55" y="332.60" width="1.90" height="8.48" fill="#111" stroke="none" stroke-width="1"/>
<rect x="414.05" y="332.60" width="1.90" height="8.17" fill="#111" stroke="none" stroke-width="1"/>
<rect x="417.55" y="332.60" width="1.90" height="7.87" fill="#111" stroke="none" stroke-width="1"/>
<rect x="420.85" y="332.60" width="2.30" height="7.27" fill="#111" stroke="none" stroke-width="1"/>
<rect x="424.35" y="332.60" width="2.30" height="6.96" fill="#111" stroke="none" stroke-width="1"/>
<rect x="427.85" y="332.60" width="2.30" height="6.96" fill="#111" stroke="none" stroke-width="1"/>
<rect x="431.35" y="332.60" width="2.30" height="6.96" fill="#111" stroke="none" stroke-width="1"/>
<rect x="434.85" y="332.60" width="2.30" height="6.96" fill="#111" stroke="none" stroke-width="1"/>
<rect x="438.35" y="332.60" width="2.30" height="6.96" fill="#111" stroke="none" stroke-width="1"/>
<rect x="442.05" y="326.55" width="1.90" height="6.06" fill="#111" stroke="none" stroke-width="1"/>
<rect x="445.55" y="326.55" width="1.90" height="6.06" fill="#111" stroke="none" stroke-width="1"/>
<rect x="449.05" y="326.55" width="1.90" height="6.06" fill="#111" stroke="none" stroke-width="1"/>
<rect x="452.55" y="326.55" width="1.90" height="6.06" fill="#111" stroke="none" stroke-width="1"/>
<rect x="456.05" y="326.55" width="1.90" height="6.06" fill="#111" stroke="none" stroke-width="1"/>
<rect x="459.55" y="326.24" width="1.90" height="6.36" fill="#111" stroke="none" stroke-width="1"/>
<rect x="463.05" y="325.33" width="1.90" height="7.27" fill="#111" stroke="none" stroke-width="1"/>
<rect x="466.55" y="323.82" width="1.90" height="8.78" fill="#111" stroke="none" stroke-width="1"/>
<rect x="470.05" y="323.52" width="1.90" height="9.08" fill="#111" stroke="none" stroke-width="1"/>
<rect x="473.55" y="323.52" width="1.90" height="9.08" fill="#111" stroke="none" stroke-width="1"/>
<rect x="477.05" y="323.52" width="1.90" height="9.08" fill="#111" stroke="none" stroke-width="1"/>
<rect x="480.55" y="322.61" width="1.90" height="9.99" fill="#111" stroke="none" stroke-width="1"/>
<rect x="484.35" y="315.34" width="1.30" height="17.26" fill="#111" stroke="none" stroke-width="1"/>
<rect x="487.85" y="315.04" width="1.30" height="17.56" fill="#111" stroke="none" stroke-width="1"/>
<text transform="translate(200.3 370) rotate(-90)" font-size="7.05" text-anchor="middle" fill="#111" stroke="#111" stroke-width="0.35">Fold Change (Tumor/Avg OSE)</text>
</g>
<rect x="0.5" y="0.5" width="519" height="489" fill="none" stroke="#111" stroke-width="1"/>
</svg></body></html>
